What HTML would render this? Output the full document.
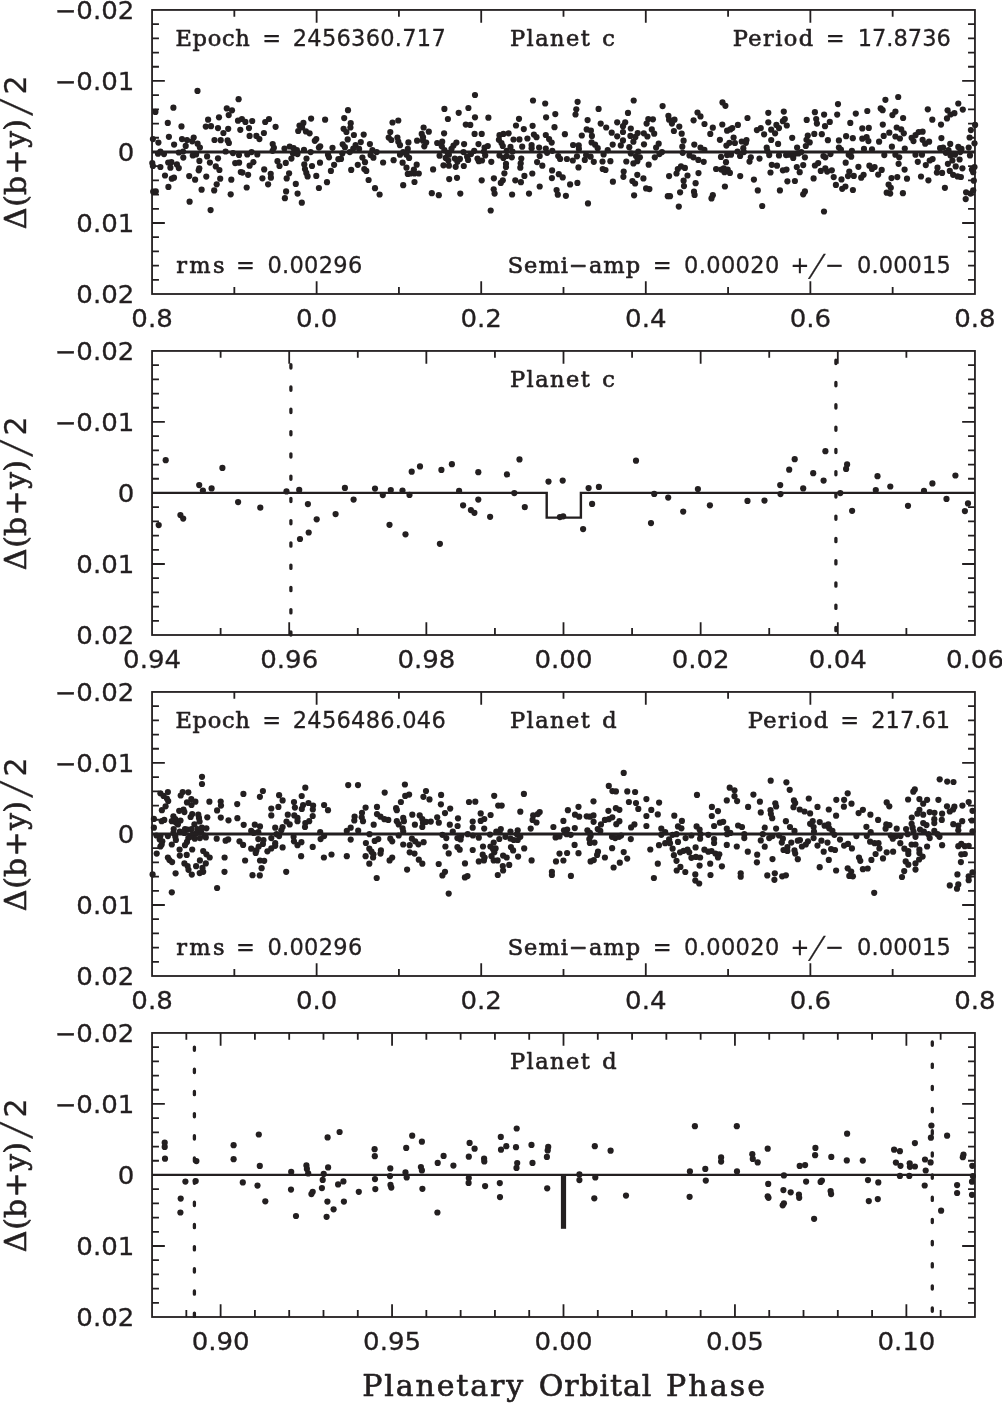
<!DOCTYPE html>
<html><head><meta charset="utf-8"><title>Planetary Orbital Phase</title>
<style>
html,body{margin:0;padding:0;background:#fff;}
svg{display:block}
text{font-family:"DejaVu Serif","Liberation Serif",serif;fill:#231f20;stroke:#231f20;stroke-width:0.65px;stroke-linejoin:round}
.n{font-family:"DejaVu Sans","Liberation Sans",sans-serif;stroke-width:0.3px}
.tk{font-size:24px}
.in{font-size:22.5px}
.big{font-size:30px}
.ax{stroke:#231f20;stroke-width:1.8;fill:none;stroke-linecap:square}
.d circle{fill:#231f20}
</style></head><body>
<svg width="1002" height="1404" viewBox="0 0 1002 1404">
<rect width="1002" height="1404" fill="#fff"/>

<g id="p0">
<rect class="ax" x="152.05" y="9.95" width="822.90" height="284.05"/>
<path class="ax" style="stroke-linecap:butt" d="M152.05 24.15h6.9M974.95 24.15h-6.9M152.05 38.36h6.9M974.95 38.36h-6.9M152.05 52.56h6.9M974.95 52.56h-6.9M152.05 66.76h6.9M974.95 66.76h-6.9M152.05 80.96h12.8M974.95 80.96h-12.8M152.05 95.17h6.9M974.95 95.17h-6.9M152.05 109.37h6.9M974.95 109.37h-6.9M152.05 123.57h6.9M974.95 123.57h-6.9M152.05 137.77h6.9M974.95 137.77h-6.9M152.05 151.97h12.8M974.95 151.97h-12.8M152.05 166.18h6.9M974.95 166.18h-6.9M152.05 180.38h6.9M974.95 180.38h-6.9M152.05 194.58h6.9M974.95 194.58h-6.9M152.05 208.78h6.9M974.95 208.78h-6.9M152.05 222.99h12.8M974.95 222.99h-12.8M152.05 237.19h6.9M974.95 237.19h-6.9M152.05 251.39h6.9M974.95 251.39h-6.9M152.05 265.60h6.9M974.95 265.60h-6.9M152.05 279.80h6.9M974.95 279.80h-6.9M316.63 9.95v12.8M316.63 294.00v-12.8M481.21 9.95v12.8M481.21 294.00v-12.8M645.79 9.95v12.8M645.79 294.00v-12.8M810.37 9.95v12.8M810.37 294.00v-12.8M234.34 9.95v6.9M234.34 294.00v-6.9M398.92 9.95v6.9M398.92 294.00v-6.9M563.50 9.95v6.9M563.50 294.00v-6.9M728.08 9.95v6.9M728.08 294.00v-6.9M892.66 9.95v6.9M892.66 294.00v-6.9"/>
<text class="tk n" transform="translate(134.3 18.85) scale(1.085 1)" text-anchor="end">−0.02</text>
<text class="tk n" transform="translate(134.3 89.86) scale(1.085 1)" text-anchor="end">−0.01</text>
<text class="tk n" transform="translate(134.3 160.88) scale(1.085 1)" text-anchor="end">0</text>
<text class="tk n" transform="translate(134.3 231.89) scale(1.085 1)" text-anchor="end">0.01</text>
<text class="tk n" transform="translate(134.3 302.90) scale(1.085 1)" text-anchor="end">0.02</text>
<text class="tk n" transform="translate(152.05 327.10) scale(1.085 1)" text-anchor="middle">0.8</text>
<text class="tk n" transform="translate(316.63 327.10) scale(1.085 1)" text-anchor="middle">0.0</text>
<text class="tk n" transform="translate(481.21 327.10) scale(1.085 1)" text-anchor="middle">0.2</text>
<text class="tk n" transform="translate(645.79 327.10) scale(1.085 1)" text-anchor="middle">0.4</text>
<text class="tk n" transform="translate(810.37 327.10) scale(1.085 1)" text-anchor="middle">0.6</text>
<text class="tk n" transform="translate(974.95 327.10) scale(1.085 1)" text-anchor="middle">0.8</text>
<g transform="translate(26.2 227.00) rotate(-90)"><text class="big" x="-2.3 20.2 31.9 52.4 78.9 96.2">Δ(b+y)</text><text class="big" transform="translate(111.9 2.6) skewX(-12) scale(1 1.32)" style="stroke-width:.3px">/</text><text class="big n" x="132.6">2</text></g>
</g>
<g class="d"><circle cx="155.4" cy="111.9" r="3.1"/><circle cx="152.9" cy="139.1" r="3.1"/><circle cx="158.4" cy="142.6" r="3.1"/><circle cx="158.0" cy="153.7" r="3.1"/><circle cx="164.0" cy="154.1" r="3.1"/><circle cx="160.4" cy="151.7" r="3.1"/><circle cx="152.3" cy="163.1" r="3.1"/><circle cx="152.9" cy="166.0" r="3.1"/><circle cx="160.4" cy="167.0" r="3.1"/><circle cx="153.2" cy="191.7" r="3.1"/><circle cx="155.8" cy="191.4" r="3.1"/><circle cx="173.4" cy="107.7" r="3.1"/><circle cx="167.8" cy="122.9" r="3.1"/><circle cx="168.9" cy="136.8" r="3.1"/><circle cx="174.1" cy="144.6" r="3.1"/><circle cx="168.2" cy="162.5" r="3.1"/><circle cx="171.4" cy="162.2" r="3.1"/><circle cx="170.4" cy="167.7" r="3.1"/><circle cx="165.0" cy="175.5" r="3.1"/><circle cx="171.8" cy="178.7" r="3.1"/><circle cx="174.0" cy="177.7" r="3.1"/><circle cx="168.4" cy="186.9" r="3.1"/><circle cx="181.5" cy="126.4" r="3.1"/><circle cx="182.0" cy="139.1" r="3.1"/><circle cx="187.0" cy="140.0" r="3.1"/><circle cx="185.7" cy="145.9" r="3.1"/><circle cx="178.8" cy="152.5" r="3.1"/><circle cx="183.1" cy="151.5" r="3.1"/><circle cx="183.3" cy="157.6" r="3.1"/><circle cx="176.9" cy="164.4" r="3.1"/><circle cx="178.8" cy="168.1" r="3.1"/><circle cx="189.2" cy="176.1" r="3.1"/><circle cx="189.6" cy="201.7" r="3.1"/><circle cx="197.5" cy="90.9" r="3.1"/><circle cx="193.7" cy="137.5" r="3.1"/><circle cx="192.2" cy="141.3" r="3.1"/><circle cx="197.6" cy="143.7" r="3.1"/><circle cx="199.9" cy="147.6" r="3.1"/><circle cx="192.8" cy="155.4" r="3.1"/><circle cx="196.1" cy="154.4" r="3.1"/><circle cx="199.4" cy="160.9" r="3.1"/><circle cx="199.3" cy="168.3" r="3.1"/><circle cx="198.7" cy="170.3" r="3.1"/><circle cx="195.1" cy="179.7" r="3.1"/><circle cx="201.6" cy="189.7" r="3.1"/><circle cx="208.1" cy="119.7" r="3.1"/><circle cx="205.8" cy="126.6" r="3.1"/><circle cx="211.0" cy="126.2" r="3.1"/><circle cx="214.5" cy="140.0" r="3.1"/><circle cx="207.1" cy="156.4" r="3.1"/><circle cx="209.9" cy="162.6" r="3.1"/><circle cx="206.3" cy="176.6" r="3.1"/><circle cx="214.2" cy="190.4" r="3.1"/><circle cx="210.6" cy="210.1" r="3.1"/><circle cx="219.0" cy="117.3" r="3.1"/><circle cx="218.0" cy="128.1" r="3.1"/><circle cx="223.4" cy="133.0" r="3.1"/><circle cx="220.7" cy="140.2" r="3.1"/><circle cx="225.6" cy="151.5" r="3.1"/><circle cx="218.0" cy="158.3" r="3.1"/><circle cx="215.8" cy="166.4" r="3.1"/><circle cx="219.4" cy="170.0" r="3.1"/><circle cx="220.2" cy="178.7" r="3.1"/><circle cx="216.7" cy="184.3" r="3.1"/><circle cx="238.6" cy="99.2" r="3.1"/><circle cx="226.8" cy="108.4" r="3.1"/><circle cx="232.0" cy="110.3" r="3.1"/><circle cx="228.7" cy="115.1" r="3.1"/><circle cx="228.2" cy="128.8" r="3.1"/><circle cx="227.6" cy="140.4" r="3.1"/><circle cx="228.9" cy="143.0" r="3.1"/><circle cx="233.0" cy="153.1" r="3.1"/><circle cx="239.0" cy="155.0" r="3.1"/><circle cx="235.2" cy="163.1" r="3.1"/><circle cx="239.1" cy="162.7" r="3.1"/><circle cx="231.3" cy="179.7" r="3.1"/><circle cx="230.7" cy="194.3" r="3.1"/><circle cx="238.0" cy="120.7" r="3.1"/><circle cx="240.3" cy="129.8" r="3.1"/><circle cx="241.9" cy="119.0" r="3.1"/><circle cx="245.4" cy="121.9" r="3.1"/><circle cx="252.2" cy="121.0" r="3.1"/><circle cx="249.0" cy="128.1" r="3.1"/><circle cx="249.6" cy="135.9" r="3.1"/><circle cx="247.3" cy="154.4" r="3.1"/><circle cx="251.6" cy="152.1" r="3.1"/><circle cx="253.4" cy="162.2" r="3.1"/><circle cx="249.6" cy="165.7" r="3.1"/><circle cx="240.8" cy="172.0" r="3.1"/><circle cx="242.4" cy="172.6" r="3.1"/><circle cx="248.1" cy="174.8" r="3.1"/><circle cx="246.7" cy="187.5" r="3.1"/><circle cx="256.4" cy="135.9" r="3.1"/><circle cx="259.4" cy="139.1" r="3.1"/><circle cx="263.9" cy="133.0" r="3.1"/><circle cx="265.2" cy="122.0" r="3.1"/><circle cx="269.0" cy="119.0" r="3.1"/><circle cx="257.3" cy="154.4" r="3.1"/><circle cx="264.2" cy="169.4" r="3.1"/><circle cx="262.4" cy="178.3" r="3.1"/><circle cx="275.6" cy="126.8" r="3.1"/><circle cx="272.7" cy="144.1" r="3.1"/><circle cx="273.9" cy="147.8" r="3.1"/><circle cx="272.6" cy="150.8" r="3.1"/><circle cx="277.5" cy="161.2" r="3.1"/><circle cx="279.5" cy="166.0" r="3.1"/><circle cx="270.7" cy="173.8" r="3.1"/><circle cx="270.9" cy="177.7" r="3.1"/><circle cx="268.1" cy="184.3" r="3.1"/><circle cx="285.8" cy="162.9" r="3.1"/><circle cx="291.4" cy="158.6" r="3.1"/><circle cx="284.5" cy="148.5" r="3.1"/><circle cx="289.7" cy="146.5" r="3.1"/><circle cx="293.6" cy="148.2" r="3.1"/><circle cx="296.9" cy="150.2" r="3.1"/><circle cx="293.0" cy="153.4" r="3.1"/><circle cx="297.5" cy="154.1" r="3.1"/><circle cx="289.1" cy="173.3" r="3.1"/><circle cx="286.7" cy="178.4" r="3.1"/><circle cx="286.1" cy="191.4" r="3.1"/><circle cx="284.9" cy="198.2" r="3.1"/><circle cx="295.8" cy="183.9" r="3.1"/><circle cx="297.6" cy="193.6" r="3.1"/><circle cx="301.8" cy="202.7" r="3.1"/><circle cx="298.2" cy="131.0" r="3.1"/><circle cx="299.5" cy="125.5" r="3.1"/><circle cx="303.4" cy="122.9" r="3.1"/><circle cx="302.1" cy="127.5" r="3.1"/><circle cx="305.9" cy="131.4" r="3.1"/><circle cx="309.6" cy="133.3" r="3.1"/><circle cx="311.1" cy="118.6" r="3.1"/><circle cx="314.8" cy="140.8" r="3.1"/><circle cx="316.3" cy="139.1" r="3.1"/><circle cx="320.2" cy="146.3" r="3.1"/><circle cx="318.9" cy="147.6" r="3.1"/><circle cx="304.0" cy="149.8" r="3.1"/><circle cx="310.7" cy="152.1" r="3.1"/><circle cx="306.5" cy="158.6" r="3.1"/><circle cx="304.3" cy="164.4" r="3.1"/><circle cx="305.0" cy="169.0" r="3.1"/><circle cx="306.3" cy="172.9" r="3.1"/><circle cx="307.6" cy="176.4" r="3.1"/><circle cx="312.0" cy="166.0" r="3.1"/><circle cx="320.0" cy="162.7" r="3.1"/><circle cx="316.3" cy="175.9" r="3.1"/><circle cx="318.9" cy="188.0" r="3.1"/><circle cx="325.1" cy="119.7" r="3.1"/><circle cx="332.5" cy="147.8" r="3.1"/><circle cx="328.0" cy="154.7" r="3.1"/><circle cx="329.0" cy="157.3" r="3.1"/><circle cx="334.1" cy="164.8" r="3.1"/><circle cx="330.9" cy="170.9" r="3.1"/><circle cx="327.0" cy="182.2" r="3.1"/><circle cx="338.4" cy="159.2" r="3.1"/><circle cx="341.0" cy="158.9" r="3.1"/><circle cx="348.0" cy="110.2" r="3.1"/><circle cx="344.2" cy="118.1" r="3.1"/><circle cx="350.7" cy="123.2" r="3.1"/><circle cx="350.4" cy="127.5" r="3.1"/><circle cx="343.6" cy="128.8" r="3.1"/><circle cx="346.4" cy="132.0" r="3.1"/><circle cx="353.9" cy="135.0" r="3.1"/><circle cx="347.7" cy="139.4" r="3.1"/><circle cx="342.7" cy="144.3" r="3.1"/><circle cx="344.9" cy="147.2" r="3.1"/><circle cx="342.3" cy="153.4" r="3.1"/><circle cx="349.8" cy="152.1" r="3.1"/><circle cx="355.6" cy="145.0" r="3.1"/><circle cx="353.3" cy="148.5" r="3.1"/><circle cx="359.1" cy="148.9" r="3.1"/><circle cx="351.2" cy="169.9" r="3.1"/><circle cx="357.8" cy="164.8" r="3.1"/><circle cx="363.7" cy="134.6" r="3.1"/><circle cx="360.8" cy="142.1" r="3.1"/><circle cx="369.9" cy="144.1" r="3.1"/><circle cx="372.4" cy="150.2" r="3.1"/><circle cx="376.7" cy="152.1" r="3.1"/><circle cx="362.4" cy="157.6" r="3.1"/><circle cx="365.0" cy="162.2" r="3.1"/><circle cx="370.6" cy="155.1" r="3.1"/><circle cx="373.4" cy="157.7" r="3.1"/><circle cx="364.3" cy="169.0" r="3.1"/><circle cx="366.3" cy="170.9" r="3.1"/><circle cx="368.6" cy="180.0" r="3.1"/><circle cx="375.0" cy="188.2" r="3.1"/><circle cx="379.6" cy="194.5" r="3.1"/><circle cx="383.1" cy="162.5" r="3.1"/><circle cx="390.3" cy="132.0" r="3.1"/><circle cx="388.7" cy="137.6" r="3.1"/><circle cx="391.3" cy="140.0" r="3.1"/><circle cx="392.5" cy="122.5" r="3.1"/><circle cx="398.3" cy="120.5" r="3.1"/><circle cx="393.6" cy="160.2" r="3.1"/><circle cx="397.4" cy="137.6" r="3.1"/><circle cx="398.3" cy="141.7" r="3.1"/><circle cx="400.0" cy="145.2" r="3.1"/><circle cx="403.2" cy="185.2" r="3.1"/><circle cx="402.6" cy="162.7" r="3.1"/><circle cx="406.5" cy="167.7" r="3.1"/><circle cx="407.8" cy="173.9" r="3.1"/><circle cx="400.0" cy="154.7" r="3.1"/><circle cx="403.2" cy="152.1" r="3.1"/><circle cx="407.8" cy="148.9" r="3.1"/><circle cx="408.4" cy="142.4" r="3.1"/><circle cx="406.5" cy="154.7" r="3.1"/><circle cx="409.1" cy="157.9" r="3.1"/><circle cx="417.1" cy="140.7" r="3.1"/><circle cx="423.0" cy="140.7" r="3.1"/><circle cx="426.2" cy="142.6" r="3.1"/><circle cx="424.3" cy="146.3" r="3.1"/><circle cx="423.6" cy="127.5" r="3.1"/><circle cx="428.8" cy="131.7" r="3.1"/><circle cx="421.7" cy="133.9" r="3.1"/><circle cx="423.0" cy="137.2" r="3.1"/><circle cx="416.7" cy="164.7" r="3.1"/><circle cx="413.9" cy="169.6" r="3.1"/><circle cx="414.5" cy="173.5" r="3.1"/><circle cx="418.8" cy="173.5" r="3.1"/><circle cx="414.5" cy="182.0" r="3.1"/><circle cx="410.6" cy="173.5" r="3.1"/><circle cx="444.4" cy="108.9" r="3.1"/><circle cx="447.9" cy="119.0" r="3.1"/><circle cx="444.1" cy="133.3" r="3.1"/><circle cx="437.2" cy="143.0" r="3.1"/><circle cx="442.2" cy="141.7" r="3.1"/><circle cx="441.8" cy="146.3" r="3.1"/><circle cx="444.4" cy="150.2" r="3.1"/><circle cx="439.6" cy="155.7" r="3.1"/><circle cx="433.1" cy="169.4" r="3.1"/><circle cx="431.8" cy="193.2" r="3.1"/><circle cx="438.8" cy="195.2" r="3.1"/><circle cx="443.5" cy="165.3" r="3.1"/><circle cx="445.7" cy="157.9" r="3.1"/><circle cx="448.3" cy="160.5" r="3.1"/><circle cx="448.9" cy="165.7" r="3.1"/><circle cx="447.6" cy="152.8" r="3.1"/><circle cx="448.9" cy="154.7" r="3.1"/><circle cx="449.2" cy="179.1" r="3.1"/><circle cx="458.7" cy="112.8" r="3.1"/><circle cx="468.4" cy="108.0" r="3.1"/><circle cx="465.8" cy="124.6" r="3.1"/><circle cx="470.3" cy="124.9" r="3.1"/><circle cx="456.4" cy="142.6" r="3.1"/><circle cx="453.5" cy="145.6" r="3.1"/><circle cx="451.5" cy="148.9" r="3.1"/><circle cx="464.1" cy="144.1" r="3.1"/><circle cx="454.8" cy="158.6" r="3.1"/><circle cx="459.9" cy="158.9" r="3.1"/><circle cx="457.4" cy="161.8" r="3.1"/><circle cx="455.7" cy="166.8" r="3.1"/><circle cx="463.8" cy="166.0" r="3.1"/><circle cx="457.0" cy="177.8" r="3.1"/><circle cx="460.3" cy="193.6" r="3.1"/><circle cx="463.5" cy="152.1" r="3.1"/><circle cx="467.1" cy="156.7" r="3.1"/><circle cx="468.1" cy="159.9" r="3.1"/><circle cx="475.0" cy="95.0" r="3.1"/><circle cx="475.0" cy="117.3" r="3.1"/><circle cx="474.6" cy="133.9" r="3.1"/><circle cx="481.7" cy="133.9" r="3.1"/><circle cx="478.5" cy="144.1" r="3.1"/><circle cx="474.2" cy="150.8" r="3.1"/><circle cx="471.0" cy="154.1" r="3.1"/><circle cx="484.6" cy="147.6" r="3.1"/><circle cx="487.8" cy="146.0" r="3.1"/><circle cx="483.9" cy="151.5" r="3.1"/><circle cx="477.5" cy="158.6" r="3.1"/><circle cx="478.8" cy="161.2" r="3.1"/><circle cx="482.0" cy="160.5" r="3.1"/><circle cx="485.2" cy="155.4" r="3.1"/><circle cx="481.7" cy="180.3" r="3.1"/><circle cx="488.4" cy="117.7" r="3.1"/><circle cx="491.3" cy="161.8" r="3.1"/><circle cx="493.9" cy="178.3" r="3.1"/><circle cx="493.7" cy="189.3" r="3.1"/><circle cx="494.6" cy="193.6" r="3.1"/><circle cx="490.7" cy="210.5" r="3.1"/><circle cx="499.5" cy="135.2" r="3.1"/><circle cx="503.4" cy="133.9" r="3.1"/><circle cx="508.6" cy="133.3" r="3.1"/><circle cx="498.9" cy="139.8" r="3.1"/><circle cx="501.5" cy="143.0" r="3.1"/><circle cx="502.8" cy="146.0" r="3.1"/><circle cx="499.5" cy="155.4" r="3.1"/><circle cx="503.4" cy="157.9" r="3.1"/><circle cx="506.7" cy="156.0" r="3.1"/><circle cx="506.7" cy="150.8" r="3.1"/><circle cx="506.0" cy="163.8" r="3.1"/><circle cx="506.0" cy="167.0" r="3.1"/><circle cx="504.4" cy="173.3" r="3.1"/><circle cx="502.8" cy="180.3" r="3.1"/><circle cx="500.8" cy="182.9" r="3.1"/><circle cx="519.0" cy="118.8" r="3.1"/><circle cx="516.0" cy="125.5" r="3.1"/><circle cx="523.8" cy="129.1" r="3.1"/><circle cx="513.5" cy="139.5" r="3.1"/><circle cx="519.4" cy="139.4" r="3.1"/><circle cx="510.5" cy="146.9" r="3.1"/><circle cx="512.5" cy="151.5" r="3.1"/><circle cx="522.2" cy="146.7" r="3.1"/><circle cx="511.8" cy="157.3" r="3.1"/><circle cx="521.3" cy="158.6" r="3.1"/><circle cx="520.7" cy="163.4" r="3.1"/><circle cx="520.3" cy="167.7" r="3.1"/><circle cx="515.3" cy="180.3" r="3.1"/><circle cx="520.9" cy="182.2" r="3.1"/><circle cx="524.4" cy="175.9" r="3.1"/><circle cx="512.1" cy="194.5" r="3.1"/><circle cx="533.0" cy="100.5" r="3.1"/><circle cx="532.6" cy="125.8" r="3.1"/><circle cx="533.9" cy="134.6" r="3.1"/><circle cx="536.5" cy="137.2" r="3.1"/><circle cx="527.4" cy="138.5" r="3.1"/><circle cx="531.6" cy="145.0" r="3.1"/><circle cx="531.6" cy="148.2" r="3.1"/><circle cx="539.1" cy="147.6" r="3.1"/><circle cx="537.1" cy="162.1" r="3.1"/><circle cx="532.3" cy="173.5" r="3.1"/><circle cx="529.0" cy="193.6" r="3.1"/><circle cx="539.7" cy="186.5" r="3.1"/><circle cx="539.7" cy="156.0" r="3.1"/><circle cx="545.2" cy="103.5" r="3.1"/><circle cx="546.1" cy="117.3" r="3.1"/><circle cx="555.3" cy="114.1" r="3.1"/><circle cx="554.5" cy="127.2" r="3.1"/><circle cx="545.8" cy="135.0" r="3.1"/><circle cx="549.1" cy="139.1" r="3.1"/><circle cx="551.7" cy="142.6" r="3.1"/><circle cx="545.8" cy="148.5" r="3.1"/><circle cx="547.1" cy="152.8" r="3.1"/><circle cx="552.3" cy="150.8" r="3.1"/><circle cx="542.3" cy="165.7" r="3.1"/><circle cx="552.1" cy="170.4" r="3.1"/><circle cx="551.9" cy="178.1" r="3.1"/><circle cx="556.6" cy="190.0" r="3.1"/><circle cx="557.8" cy="194.7" r="3.1"/><circle cx="558.2" cy="156.0" r="3.1"/><circle cx="560.1" cy="158.9" r="3.1"/><circle cx="558.8" cy="174.2" r="3.1"/><circle cx="577.6" cy="101.8" r="3.1"/><circle cx="576.3" cy="109.3" r="3.1"/><circle cx="575.5" cy="114.5" r="3.1"/><circle cx="564.9" cy="134.2" r="3.1"/><circle cx="573.1" cy="145.0" r="3.1"/><circle cx="578.7" cy="145.4" r="3.1"/><circle cx="578.9" cy="148.9" r="3.1"/><circle cx="566.9" cy="159.0" r="3.1"/><circle cx="572.8" cy="160.5" r="3.1"/><circle cx="577.0" cy="156.3" r="3.1"/><circle cx="578.5" cy="167.4" r="3.1"/><circle cx="562.7" cy="177.4" r="3.1"/><circle cx="570.1" cy="184.4" r="3.1"/><circle cx="577.4" cy="182.9" r="3.1"/><circle cx="565.9" cy="195.8" r="3.1"/><circle cx="587.6" cy="120.1" r="3.1"/><circle cx="586.7" cy="129.4" r="3.1"/><circle cx="590.9" cy="130.7" r="3.1"/><circle cx="591.9" cy="135.9" r="3.1"/><circle cx="581.8" cy="135.5" r="3.1"/><circle cx="591.6" cy="142.4" r="3.1"/><circle cx="595.1" cy="144.7" r="3.1"/><circle cx="597.7" cy="148.2" r="3.1"/><circle cx="584.8" cy="159.9" r="3.1"/><circle cx="586.1" cy="155.1" r="3.1"/><circle cx="590.6" cy="156.7" r="3.1"/><circle cx="593.8" cy="161.8" r="3.1"/><circle cx="588.0" cy="203.4" r="3.1"/><circle cx="598.6" cy="108.9" r="3.1"/><circle cx="600.7" cy="123.6" r="3.1"/><circle cx="606.2" cy="127.5" r="3.1"/><circle cx="611.7" cy="132.7" r="3.1"/><circle cx="617.2" cy="122.3" r="3.1"/><circle cx="617.2" cy="136.3" r="3.1"/><circle cx="612.7" cy="144.6" r="3.1"/><circle cx="607.7" cy="150.2" r="3.1"/><circle cx="603.6" cy="154.4" r="3.1"/><circle cx="602.5" cy="161.5" r="3.1"/><circle cx="610.4" cy="161.2" r="3.1"/><circle cx="602.7" cy="169.0" r="3.1"/><circle cx="605.5" cy="170.0" r="3.1"/><circle cx="612.9" cy="181.7" r="3.1"/><circle cx="633.7" cy="100.5" r="3.1"/><circle cx="628.0" cy="112.9" r="3.1"/><circle cx="625.2" cy="122.3" r="3.1"/><circle cx="623.0" cy="126.2" r="3.1"/><circle cx="623.0" cy="132.0" r="3.1"/><circle cx="630.8" cy="128.5" r="3.1"/><circle cx="630.4" cy="135.9" r="3.1"/><circle cx="623.0" cy="140.4" r="3.1"/><circle cx="620.8" cy="145.4" r="3.1"/><circle cx="629.3" cy="147.2" r="3.1"/><circle cx="626.3" cy="161.5" r="3.1"/><circle cx="623.7" cy="171.6" r="3.1"/><circle cx="623.4" cy="176.8" r="3.1"/><circle cx="633.4" cy="141.7" r="3.1"/><circle cx="635.4" cy="136.9" r="3.1"/><circle cx="637.7" cy="133.0" r="3.1"/><circle cx="638.3" cy="151.5" r="3.1"/><circle cx="636.0" cy="156.0" r="3.1"/><circle cx="639.9" cy="157.3" r="3.1"/><circle cx="637.3" cy="161.2" r="3.1"/><circle cx="633.4" cy="163.4" r="3.1"/><circle cx="630.8" cy="153.4" r="3.1"/><circle cx="637.3" cy="174.8" r="3.1"/><circle cx="632.4" cy="181.0" r="3.1"/><circle cx="635.1" cy="183.5" r="3.1"/><circle cx="634.1" cy="195.3" r="3.1"/><circle cx="648.3" cy="119.0" r="3.1"/><circle cx="652.9" cy="119.3" r="3.1"/><circle cx="646.6" cy="123.6" r="3.1"/><circle cx="651.8" cy="129.4" r="3.1"/><circle cx="654.2" cy="133.7" r="3.1"/><circle cx="643.8" cy="133.3" r="3.1"/><circle cx="647.4" cy="136.5" r="3.1"/><circle cx="644.0" cy="144.3" r="3.1"/><circle cx="648.7" cy="164.7" r="3.1"/><circle cx="643.4" cy="178.4" r="3.1"/><circle cx="646.1" cy="188.4" r="3.1"/><circle cx="649.4" cy="189.1" r="3.1"/><circle cx="654.8" cy="157.3" r="3.1"/><circle cx="656.1" cy="147.6" r="3.1"/><circle cx="658.7" cy="143.7" r="3.1"/><circle cx="662.6" cy="106.1" r="3.1"/><circle cx="668.4" cy="115.8" r="3.1"/><circle cx="669.1" cy="119.7" r="3.1"/><circle cx="659.4" cy="154.1" r="3.1"/><circle cx="662.0" cy="152.1" r="3.1"/><circle cx="669.1" cy="176.1" r="3.1"/><circle cx="667.8" cy="196.2" r="3.1"/><circle cx="674.5" cy="119.7" r="3.1"/><circle cx="671.9" cy="123.6" r="3.1"/><circle cx="673.9" cy="131.0" r="3.1"/><circle cx="679.3" cy="126.6" r="3.1"/><circle cx="681.7" cy="133.7" r="3.1"/><circle cx="683.6" cy="140.7" r="3.1"/><circle cx="682.3" cy="146.7" r="3.1"/><circle cx="682.7" cy="152.8" r="3.1"/><circle cx="676.5" cy="173.5" r="3.1"/><circle cx="677.8" cy="169.0" r="3.1"/><circle cx="681.0" cy="166.4" r="3.1"/><circle cx="684.9" cy="167.9" r="3.1"/><circle cx="687.5" cy="175.5" r="3.1"/><circle cx="683.6" cy="180.7" r="3.1"/><circle cx="684.0" cy="186.1" r="3.1"/><circle cx="680.1" cy="192.3" r="3.1"/><circle cx="670.0" cy="196.2" r="3.1"/><circle cx="678.8" cy="206.6" r="3.1"/><circle cx="689.5" cy="155.4" r="3.1"/><circle cx="697.5" cy="112.5" r="3.1"/><circle cx="700.5" cy="116.4" r="3.1"/><circle cx="693.6" cy="120.3" r="3.1"/><circle cx="704.5" cy="124.0" r="3.1"/><circle cx="694.3" cy="144.6" r="3.1"/><circle cx="700.5" cy="147.6" r="3.1"/><circle cx="704.4" cy="149.9" r="3.1"/><circle cx="693.4" cy="157.3" r="3.1"/><circle cx="698.3" cy="159.9" r="3.1"/><circle cx="703.7" cy="161.8" r="3.1"/><circle cx="698.5" cy="173.1" r="3.1"/><circle cx="695.6" cy="183.2" r="3.1"/><circle cx="694.0" cy="191.7" r="3.1"/><circle cx="694.6" cy="194.9" r="3.1"/><circle cx="722.5" cy="102.4" r="3.1"/><circle cx="725.4" cy="105.8" r="3.1"/><circle cx="712.8" cy="127.7" r="3.1"/><circle cx="710.3" cy="133.9" r="3.1"/><circle cx="722.3" cy="124.5" r="3.1"/><circle cx="719.9" cy="139.8" r="3.1"/><circle cx="727.1" cy="130.7" r="3.1"/><circle cx="730.3" cy="129.4" r="3.1"/><circle cx="726.4" cy="145.6" r="3.1"/><circle cx="729.4" cy="142.8" r="3.1"/><circle cx="721.0" cy="156.9" r="3.1"/><circle cx="726.0" cy="162.2" r="3.1"/><circle cx="716.1" cy="169.0" r="3.1"/><circle cx="721.2" cy="169.6" r="3.1"/><circle cx="724.5" cy="172.2" r="3.1"/><circle cx="727.7" cy="169.6" r="3.1"/><circle cx="729.9" cy="172.9" r="3.1"/><circle cx="723.8" cy="168.3" r="3.1"/><circle cx="724.9" cy="186.5" r="3.1"/><circle cx="712.8" cy="195.2" r="3.1"/><circle cx="711.5" cy="198.4" r="3.1"/><circle cx="727.1" cy="155.1" r="3.1"/><circle cx="737.9" cy="124.9" r="3.1"/><circle cx="732.3" cy="128.1" r="3.1"/><circle cx="733.6" cy="137.5" r="3.1"/><circle cx="734.9" cy="143.0" r="3.1"/><circle cx="741.7" cy="141.5" r="3.1"/><circle cx="746.5" cy="140.0" r="3.1"/><circle cx="745.9" cy="142.8" r="3.1"/><circle cx="731.0" cy="154.7" r="3.1"/><circle cx="737.5" cy="151.5" r="3.1"/><circle cx="740.1" cy="156.0" r="3.1"/><circle cx="743.3" cy="148.2" r="3.1"/><circle cx="743.9" cy="152.1" r="3.1"/><circle cx="740.2" cy="176.1" r="3.1"/><circle cx="747.5" cy="118.0" r="3.1"/><circle cx="750.8" cy="157.3" r="3.1"/><circle cx="749.5" cy="161.6" r="3.1"/><circle cx="759.5" cy="158.6" r="3.1"/><circle cx="753.9" cy="179.6" r="3.1"/><circle cx="757.8" cy="190.4" r="3.1"/><circle cx="762.2" cy="206.0" r="3.1"/><circle cx="756.9" cy="130.1" r="3.1"/><circle cx="760.8" cy="128.1" r="3.1"/><circle cx="764.1" cy="134.3" r="3.1"/><circle cx="766.7" cy="147.6" r="3.1"/><circle cx="767.3" cy="150.8" r="3.1"/><circle cx="768.3" cy="112.8" r="3.1"/><circle cx="768.3" cy="122.3" r="3.1"/><circle cx="783.8" cy="111.6" r="3.1"/><circle cx="782.9" cy="121.2" r="3.1"/><circle cx="784.8" cy="119.0" r="3.1"/><circle cx="786.8" cy="125.5" r="3.1"/><circle cx="776.4" cy="124.9" r="3.1"/><circle cx="779.0" cy="128.1" r="3.1"/><circle cx="771.2" cy="129.7" r="3.1"/><circle cx="775.1" cy="133.3" r="3.1"/><circle cx="771.2" cy="140.0" r="3.1"/><circle cx="778.1" cy="143.9" r="3.1"/><circle cx="769.2" cy="155.1" r="3.1"/><circle cx="779.0" cy="155.4" r="3.1"/><circle cx="771.8" cy="164.8" r="3.1"/><circle cx="777.0" cy="165.7" r="3.1"/><circle cx="770.5" cy="172.5" r="3.1"/><circle cx="782.9" cy="170.3" r="3.1"/><circle cx="786.5" cy="169.6" r="3.1"/><circle cx="779.9" cy="190.4" r="3.1"/><circle cx="786.1" cy="155.1" r="3.1"/><circle cx="792.2" cy="137.8" r="3.1"/><circle cx="797.1" cy="147.6" r="3.1"/><circle cx="789.4" cy="154.7" r="3.1"/><circle cx="793.2" cy="157.9" r="3.1"/><circle cx="794.5" cy="154.1" r="3.1"/><circle cx="798.4" cy="153.4" r="3.1"/><circle cx="796.8" cy="167.0" r="3.1"/><circle cx="787.4" cy="181.3" r="3.1"/><circle cx="794.9" cy="181.0" r="3.1"/><circle cx="799.7" cy="172.2" r="3.1"/><circle cx="806.7" cy="119.9" r="3.1"/><circle cx="814.9" cy="112.2" r="3.1"/><circle cx="816.2" cy="119.0" r="3.1"/><circle cx="816.9" cy="123.6" r="3.1"/><circle cx="814.3" cy="133.9" r="3.1"/><circle cx="807.8" cy="135.6" r="3.1"/><circle cx="806.5" cy="139.8" r="3.1"/><circle cx="809.7" cy="142.4" r="3.1"/><circle cx="805.8" cy="146.0" r="3.1"/><circle cx="801.3" cy="152.1" r="3.1"/><circle cx="804.9" cy="157.3" r="3.1"/><circle cx="803.2" cy="165.1" r="3.1"/><circle cx="813.6" cy="178.4" r="3.1"/><circle cx="804.9" cy="191.4" r="3.1"/><circle cx="803.2" cy="194.3" r="3.1"/><circle cx="814.9" cy="165.5" r="3.1"/><circle cx="818.2" cy="163.1" r="3.1"/><circle cx="838.0" cy="104.1" r="3.1"/><circle cx="824.1" cy="114.6" r="3.1"/><circle cx="837.2" cy="114.6" r="3.1"/><circle cx="829.8" cy="121.9" r="3.1"/><circle cx="825.0" cy="126.2" r="3.1"/><circle cx="821.8" cy="134.2" r="3.1"/><circle cx="827.9" cy="140.2" r="3.1"/><circle cx="838.9" cy="140.4" r="3.1"/><circle cx="838.9" cy="147.6" r="3.1"/><circle cx="840.9" cy="149.5" r="3.1"/><circle cx="823.4" cy="156.0" r="3.1"/><circle cx="825.3" cy="157.3" r="3.1"/><circle cx="830.5" cy="154.1" r="3.1"/><circle cx="820.8" cy="170.9" r="3.1"/><circle cx="825.3" cy="168.3" r="3.1"/><circle cx="827.2" cy="171.6" r="3.1"/><circle cx="831.8" cy="170.3" r="3.1"/><circle cx="833.7" cy="177.1" r="3.1"/><circle cx="835.9" cy="184.9" r="3.1"/><circle cx="855.8" cy="113.6" r="3.1"/><circle cx="850.3" cy="122.9" r="3.1"/><circle cx="846.1" cy="136.2" r="3.1"/><circle cx="852.8" cy="138.2" r="3.1"/><circle cx="851.9" cy="150.8" r="3.1"/><circle cx="848.7" cy="154.7" r="3.1"/><circle cx="851.2" cy="156.7" r="3.1"/><circle cx="845.7" cy="162.7" r="3.1"/><circle cx="858.4" cy="166.8" r="3.1"/><circle cx="849.3" cy="171.6" r="3.1"/><circle cx="848.0" cy="176.1" r="3.1"/><circle cx="853.8" cy="175.9" r="3.1"/><circle cx="841.5" cy="179.4" r="3.1"/><circle cx="845.4" cy="186.5" r="3.1"/><circle cx="842.2" cy="188.8" r="3.1"/><circle cx="852.9" cy="190.0" r="3.1"/><circle cx="867.3" cy="111.0" r="3.1"/><circle cx="862.3" cy="128.4" r="3.1"/><circle cx="868.8" cy="127.9" r="3.1"/><circle cx="862.3" cy="138.7" r="3.1"/><circle cx="866.6" cy="137.2" r="3.1"/><circle cx="868.4" cy="141.1" r="3.1"/><circle cx="864.0" cy="148.9" r="3.1"/><circle cx="872.0" cy="149.3" r="3.1"/><circle cx="869.4" cy="165.7" r="3.1"/><circle cx="872.0" cy="169.0" r="3.1"/><circle cx="874.6" cy="167.0" r="3.1"/><circle cx="863.6" cy="174.8" r="3.1"/><circle cx="861.2" cy="177.7" r="3.1"/><circle cx="878.2" cy="174.6" r="3.1"/><circle cx="885.4" cy="99.8" r="3.1"/><circle cx="880.7" cy="108.4" r="3.1"/><circle cx="882.6" cy="110.2" r="3.1"/><circle cx="895.4" cy="111.6" r="3.1"/><circle cx="892.4" cy="115.1" r="3.1"/><circle cx="882.8" cy="124.6" r="3.1"/><circle cx="889.3" cy="132.7" r="3.1"/><circle cx="883.7" cy="135.9" r="3.1"/><circle cx="879.1" cy="141.7" r="3.1"/><circle cx="891.9" cy="146.7" r="3.1"/><circle cx="884.3" cy="155.1" r="3.1"/><circle cx="881.7" cy="169.9" r="3.1"/><circle cx="891.5" cy="178.1" r="3.1"/><circle cx="897.3" cy="177.1" r="3.1"/><circle cx="888.6" cy="184.5" r="3.1"/><circle cx="890.8" cy="187.8" r="3.1"/><circle cx="886.7" cy="192.7" r="3.1"/><circle cx="890.2" cy="193.6" r="3.1"/><circle cx="896.7" cy="127.5" r="3.1"/><circle cx="895.4" cy="136.5" r="3.1"/><circle cx="895.4" cy="154.7" r="3.1"/><circle cx="898.2" cy="97.0" r="3.1"/><circle cx="903.1" cy="118.0" r="3.1"/><circle cx="901.2" cy="129.4" r="3.1"/><circle cx="903.8" cy="133.3" r="3.1"/><circle cx="899.9" cy="138.5" r="3.1"/><circle cx="904.8" cy="148.6" r="3.1"/><circle cx="899.2" cy="157.3" r="3.1"/><circle cx="898.6" cy="163.8" r="3.1"/><circle cx="904.6" cy="169.6" r="3.1"/><circle cx="907.0" cy="178.7" r="3.1"/><circle cx="902.9" cy="193.2" r="3.1"/><circle cx="911.6" cy="137.8" r="3.1"/><circle cx="913.5" cy="141.1" r="3.1"/><circle cx="915.5" cy="135.2" r="3.1"/><circle cx="915.5" cy="154.7" r="3.1"/><circle cx="918.7" cy="132.0" r="3.1"/><circle cx="922.6" cy="131.7" r="3.1"/><circle cx="922.6" cy="139.8" r="3.1"/><circle cx="925.2" cy="143.7" r="3.1"/><circle cx="929.1" cy="141.7" r="3.1"/><circle cx="922.0" cy="154.7" r="3.1"/><circle cx="917.8" cy="161.8" r="3.1"/><circle cx="925.8" cy="165.1" r="3.1"/><circle cx="929.7" cy="160.5" r="3.1"/><circle cx="921.0" cy="176.5" r="3.1"/><circle cx="928.4" cy="180.3" r="3.1"/><circle cx="927.8" cy="109.3" r="3.1"/><circle cx="824.0" cy="211.5" r="3.1"/><circle cx="932.3" cy="119.7" r="3.1"/><circle cx="932.6" cy="159.1" r="3.1"/><circle cx="941.0" cy="124.6" r="3.1"/><circle cx="941.4" cy="138.1" r="3.1"/><circle cx="940.1" cy="148.2" r="3.1"/><circle cx="943.1" cy="147.6" r="3.1"/><circle cx="947.6" cy="110.3" r="3.1"/><circle cx="947.0" cy="118.4" r="3.1"/><circle cx="950.5" cy="114.5" r="3.1"/><circle cx="954.4" cy="113.2" r="3.1"/><circle cx="958.3" cy="103.5" r="3.1"/><circle cx="962.8" cy="109.6" r="3.1"/><circle cx="950.2" cy="143.9" r="3.1"/><circle cx="945.9" cy="152.8" r="3.1"/><circle cx="948.5" cy="150.2" r="3.1"/><circle cx="950.5" cy="155.4" r="3.1"/><circle cx="955.0" cy="154.7" r="3.1"/><circle cx="958.3" cy="146.9" r="3.1"/><circle cx="961.5" cy="148.9" r="3.1"/><circle cx="960.2" cy="152.1" r="3.1"/><circle cx="959.6" cy="159.5" r="3.1"/><circle cx="947.9" cy="163.8" r="3.1"/><circle cx="952.4" cy="160.5" r="3.1"/><circle cx="937.5" cy="167.7" r="3.1"/><circle cx="936.9" cy="172.6" r="3.1"/><circle cx="942.1" cy="172.9" r="3.1"/><circle cx="949.8" cy="170.9" r="3.1"/><circle cx="955.7" cy="166.4" r="3.1"/><circle cx="953.1" cy="174.8" r="3.1"/><circle cx="962.4" cy="168.3" r="3.1"/><circle cx="957.6" cy="176.4" r="3.1"/><circle cx="960.9" cy="177.0" r="3.1"/><circle cx="944.9" cy="187.8" r="3.1"/><circle cx="968.7" cy="147.6" r="3.1"/><circle cx="970.0" cy="155.4" r="3.1"/><circle cx="969.6" cy="137.5" r="3.1"/><circle cx="974.5" cy="143.3" r="3.1"/><circle cx="970.9" cy="130.1" r="3.1"/><circle cx="975.1" cy="124.9" r="3.1"/><circle cx="971.9" cy="169.6" r="3.1"/><circle cx="973.2" cy="172.2" r="3.1"/><circle cx="974.5" cy="167.0" r="3.1"/><circle cx="973.8" cy="180.7" r="3.1"/><circle cx="966.1" cy="192.3" r="3.1"/><circle cx="970.6" cy="193.6" r="3.1"/><circle cx="973.2" cy="190.4" r="3.1"/><circle cx="965.7" cy="199.1" r="3.1"/></g>
<path d="M152.05 151.88H974.95" stroke="#231f20" stroke-width="3"/>
<text class="n" transform="translate(809.30 276.25) skewX(-21.6) scale(1 1.35)" style="font-size:22.5px">/</text>
<g id="p1">
<rect class="ax" x="152.05" y="350.95" width="822.90" height="284.05"/>
<path class="ax" style="stroke-linecap:butt" d="M152.05 365.15h6.9M974.95 365.15h-6.9M152.05 379.36h6.9M974.95 379.36h-6.9M152.05 393.56h6.9M974.95 393.56h-6.9M152.05 407.76h6.9M974.95 407.76h-6.9M152.05 421.96h12.8M974.95 421.96h-12.8M152.05 436.16h6.9M974.95 436.16h-6.9M152.05 450.37h6.9M974.95 450.37h-6.9M152.05 464.57h6.9M974.95 464.57h-6.9M152.05 478.77h6.9M974.95 478.77h-6.9M152.05 492.98h12.8M974.95 492.98h-12.8M152.05 507.18h6.9M974.95 507.18h-6.9M152.05 521.38h6.9M974.95 521.38h-6.9M152.05 535.58h6.9M974.95 535.58h-6.9M152.05 549.78h6.9M974.95 549.78h-6.9M152.05 563.99h12.8M974.95 563.99h-12.8M152.05 578.19h6.9M974.95 578.19h-6.9M152.05 592.39h6.9M974.95 592.39h-6.9M152.05 606.60h6.9M974.95 606.60h-6.9M152.05 620.80h6.9M974.95 620.80h-6.9M289.20 350.95v12.8M289.20 635.00v-12.8M426.35 350.95v12.8M426.35 635.00v-12.8M563.50 350.95v12.8M563.50 635.00v-12.8M700.65 350.95v12.8M700.65 635.00v-12.8M837.80 350.95v12.8M837.80 635.00v-12.8M220.62 350.95v6.9M220.62 635.00v-6.9M357.78 350.95v6.9M357.78 635.00v-6.9M494.93 350.95v6.9M494.93 635.00v-6.9M632.08 350.95v6.9M632.08 635.00v-6.9M769.23 350.95v6.9M769.23 635.00v-6.9M906.38 350.95v6.9M906.38 635.00v-6.9"/>
<text class="tk n" transform="translate(134.3 359.85) scale(1.085 1)" text-anchor="end">−0.02</text>
<text class="tk n" transform="translate(134.3 430.86) scale(1.085 1)" text-anchor="end">−0.01</text>
<text class="tk n" transform="translate(134.3 501.88) scale(1.085 1)" text-anchor="end">0</text>
<text class="tk n" transform="translate(134.3 572.89) scale(1.085 1)" text-anchor="end">0.01</text>
<text class="tk n" transform="translate(134.3 643.90) scale(1.085 1)" text-anchor="end">0.02</text>
<text class="tk n" transform="translate(152.05 668.10) scale(1.085 1)" text-anchor="middle">0.94</text>
<text class="tk n" transform="translate(289.20 668.10) scale(1.085 1)" text-anchor="middle">0.96</text>
<text class="tk n" transform="translate(426.35 668.10) scale(1.085 1)" text-anchor="middle">0.98</text>
<text class="tk n" transform="translate(563.50 668.10) scale(1.085 1)" text-anchor="middle">0.00</text>
<text class="tk n" transform="translate(700.65 668.10) scale(1.085 1)" text-anchor="middle">0.02</text>
<text class="tk n" transform="translate(837.80 668.10) scale(1.085 1)" text-anchor="middle">0.04</text>
<text class="tk n" transform="translate(974.95 668.10) scale(1.085 1)" text-anchor="middle">0.06</text>
<g transform="translate(26.2 568.00) rotate(-90)"><text class="big" x="-2.3 20.2 31.9 52.4 78.9 96.2">Δ(b+y)</text><text class="big" transform="translate(111.9 2.6) skewX(-12) scale(1 1.32)" style="stroke-width:.3px">/</text><text class="big n" x="132.6">2</text></g>
</g>
<g class="d"><circle cx="165.7" cy="460.2" r="3.1"/><circle cx="158.7" cy="525.1" r="3.1"/><circle cx="180.4" cy="515.1" r="3.1"/><circle cx="183.2" cy="518.6" r="3.1"/><circle cx="199.2" cy="485.1" r="3.1"/><circle cx="202.9" cy="490.6" r="3.1"/><circle cx="211.6" cy="488.4" r="3.1"/><circle cx="222.4" cy="467.9" r="3.1"/><circle cx="238.1" cy="502.1" r="3.1"/><circle cx="260.3" cy="507.6" r="3.1"/><circle cx="286.5" cy="491.4" r="3.1"/><circle cx="299.2" cy="489.9" r="3.1"/><circle cx="307.9" cy="504.1" r="3.1"/><circle cx="316.7" cy="519.3" r="3.1"/><circle cx="308.7" cy="532.5" r="3.1"/><circle cx="300.0" cy="539.0" r="3.1"/><circle cx="335.6" cy="514.1" r="3.1"/><circle cx="344.9" cy="487.9" r="3.1"/><circle cx="353.6" cy="499.6" r="3.1"/><circle cx="375.0" cy="488.6" r="3.1"/><circle cx="382.8" cy="495.1" r="3.1"/><circle cx="390.8" cy="490.1" r="3.1"/><circle cx="389.5" cy="524.8" r="3.1"/><circle cx="402.5" cy="490.6" r="3.1"/><circle cx="409.5" cy="494.9" r="3.1"/><circle cx="411.7" cy="471.7" r="3.1"/><circle cx="420.0" cy="466.4" r="3.1"/><circle cx="405.5" cy="534.3" r="3.1"/><circle cx="441.4" cy="469.9" r="3.1"/><circle cx="451.9" cy="464.2" r="3.1"/><circle cx="439.9" cy="543.8" r="3.1"/><circle cx="459.1" cy="490.9" r="3.1"/><circle cx="463.1" cy="505.3" r="3.1"/><circle cx="470.9" cy="510.1" r="3.1"/><circle cx="474.4" cy="512.8" r="3.1"/><circle cx="478.3" cy="472.2" r="3.1"/><circle cx="478.3" cy="499.6" r="3.1"/><circle cx="490.1" cy="516.8" r="3.1"/><circle cx="507.0" cy="474.4" r="3.1"/><circle cx="514.3" cy="493.1" r="3.1"/><circle cx="519.5" cy="459.4" r="3.1"/><circle cx="524.8" cy="507.1" r="3.1"/><circle cx="548.5" cy="481.6" r="3.1"/><circle cx="562.7" cy="480.6" r="3.1"/><circle cx="559.9" cy="517.1" r="3.1"/><circle cx="563.2" cy="516.3" r="3.1"/><circle cx="583.1" cy="529.1" r="3.1"/><circle cx="588.6" cy="488.1" r="3.1"/><circle cx="598.9" cy="486.9" r="3.1"/><circle cx="592.1" cy="503.9" r="3.1"/><circle cx="636.0" cy="460.7" r="3.1"/><circle cx="651.0" cy="523.1" r="3.1"/><circle cx="654.2" cy="493.9" r="3.1"/><circle cx="668.2" cy="497.6" r="3.1"/><circle cx="683.2" cy="511.6" r="3.1"/><circle cx="697.9" cy="489.1" r="3.1"/><circle cx="709.9" cy="505.3" r="3.1"/><circle cx="747.5" cy="500.9" r="3.1"/><circle cx="764.5" cy="500.6" r="3.1"/><circle cx="780.2" cy="485.1" r="3.1"/><circle cx="780.5" cy="494.1" r="3.1"/><circle cx="789.2" cy="469.7" r="3.1"/><circle cx="794.7" cy="459.2" r="3.1"/><circle cx="803.2" cy="488.4" r="3.1"/><circle cx="813.2" cy="473.2" r="3.1"/><circle cx="823.6" cy="480.6" r="3.1"/><circle cx="825.4" cy="451.2" r="3.1"/><circle cx="847.1" cy="464.4" r="3.1"/><circle cx="846.1" cy="468.9" r="3.1"/><circle cx="840.3" cy="493.1" r="3.1"/><circle cx="852.1" cy="510.8" r="3.1"/><circle cx="875.8" cy="490.1" r="3.1"/><circle cx="877.5" cy="476.2" r="3.1"/><circle cx="890.3" cy="486.5" r="3.1"/><circle cx="908.0" cy="505.8" r="3.1"/><circle cx="924.0" cy="490.9" r="3.1"/><circle cx="932.4" cy="483.4" r="3.1"/><circle cx="946.5" cy="498.9" r="3.1"/><circle cx="955.4" cy="475.5" r="3.1"/><circle cx="968.0" cy="503.4" r="3.1"/><circle cx="964.9" cy="511.1" r="3.1"/></g>
<path d="M152.05 492.88H546.7V517.6H580.9V492.88H974.95" fill="none" stroke="#231f20" stroke-width="2.4" stroke-linejoin="miter"/>
<path d="M290.9 364.75V635.00" stroke="#231f20" stroke-width="3.3" stroke-linecap="round" stroke-dasharray="3.3 18.96"/>
<path d="M835.9 360.25V635.00" stroke="#231f20" stroke-width="3.3" stroke-linecap="round" stroke-dasharray="3.3 18.96"/>
<g id="p2">
<rect class="ax" x="152.05" y="691.95" width="822.90" height="284.05"/>
<path class="ax" style="stroke-linecap:butt" d="M152.05 706.15h6.9M974.95 706.15h-6.9M152.05 720.36h6.9M974.95 720.36h-6.9M152.05 734.56h6.9M974.95 734.56h-6.9M152.05 748.76h6.9M974.95 748.76h-6.9M152.05 762.96h12.8M974.95 762.96h-12.8M152.05 777.17h6.9M974.95 777.17h-6.9M152.05 791.37h6.9M974.95 791.37h-6.9M152.05 805.57h6.9M974.95 805.57h-6.9M152.05 819.77h6.9M974.95 819.77h-6.9M152.05 833.98h12.8M974.95 833.98h-12.8M152.05 848.18h6.9M974.95 848.18h-6.9M152.05 862.38h6.9M974.95 862.38h-6.9M152.05 876.58h6.9M974.95 876.58h-6.9M152.05 890.79h6.9M974.95 890.79h-6.9M152.05 904.99h12.8M974.95 904.99h-12.8M152.05 919.19h6.9M974.95 919.19h-6.9M152.05 933.39h6.9M974.95 933.39h-6.9M152.05 947.60h6.9M974.95 947.60h-6.9M152.05 961.80h6.9M974.95 961.80h-6.9M316.63 691.95v12.8M316.63 976.00v-12.8M481.21 691.95v12.8M481.21 976.00v-12.8M645.79 691.95v12.8M645.79 976.00v-12.8M810.37 691.95v12.8M810.37 976.00v-12.8M234.34 691.95v6.9M234.34 976.00v-6.9M398.92 691.95v6.9M398.92 976.00v-6.9M563.50 691.95v6.9M563.50 976.00v-6.9M728.08 691.95v6.9M728.08 976.00v-6.9M892.66 691.95v6.9M892.66 976.00v-6.9"/>
<text class="tk n" transform="translate(134.3 700.85) scale(1.085 1)" text-anchor="end">−0.02</text>
<text class="tk n" transform="translate(134.3 771.86) scale(1.085 1)" text-anchor="end">−0.01</text>
<text class="tk n" transform="translate(134.3 842.88) scale(1.085 1)" text-anchor="end">0</text>
<text class="tk n" transform="translate(134.3 913.89) scale(1.085 1)" text-anchor="end">0.01</text>
<text class="tk n" transform="translate(134.3 984.90) scale(1.085 1)" text-anchor="end">0.02</text>
<text class="tk n" transform="translate(152.05 1009.10) scale(1.085 1)" text-anchor="middle">0.8</text>
<text class="tk n" transform="translate(316.63 1009.10) scale(1.085 1)" text-anchor="middle">0.0</text>
<text class="tk n" transform="translate(481.21 1009.10) scale(1.085 1)" text-anchor="middle">0.2</text>
<text class="tk n" transform="translate(645.79 1009.10) scale(1.085 1)" text-anchor="middle">0.4</text>
<text class="tk n" transform="translate(810.37 1009.10) scale(1.085 1)" text-anchor="middle">0.6</text>
<text class="tk n" transform="translate(974.95 1009.10) scale(1.085 1)" text-anchor="middle">0.8</text>
<g transform="translate(26.2 909.00) rotate(-90)"><text class="big" x="-2.3 20.2 31.9 52.4 78.9 96.2">Δ(b+y)</text><text class="big" transform="translate(111.9 2.6) skewX(-12) scale(1 1.32)" style="stroke-width:.3px">/</text><text class="big n" x="132.6">2</text></g>
</g>
<g class="d"><circle cx="160.4" cy="793.3" r="3.1"/><circle cx="163.6" cy="795.9" r="3.1"/><circle cx="167.9" cy="792.0" r="3.1"/><circle cx="166.9" cy="798.5" r="3.1"/><circle cx="168.2" cy="801.1" r="3.1"/><circle cx="165.6" cy="806.3" r="3.1"/><circle cx="161.9" cy="810.2" r="3.1"/><circle cx="153.9" cy="818.9" r="3.1"/><circle cx="161.7" cy="821.2" r="3.1"/><circle cx="164.3" cy="819.9" r="3.1"/><circle cx="153.9" cy="827.7" r="3.1"/><circle cx="156.5" cy="835.5" r="3.1"/><circle cx="160.4" cy="836.1" r="3.1"/><circle cx="159.7" cy="839.4" r="3.1"/><circle cx="162.3" cy="841.3" r="3.1"/><circle cx="161.7" cy="844.5" r="3.1"/><circle cx="160.4" cy="846.5" r="3.1"/><circle cx="156.7" cy="853.6" r="3.1"/><circle cx="152.6" cy="874.4" r="3.1"/><circle cx="167.9" cy="836.1" r="3.1"/><circle cx="167.9" cy="857.5" r="3.1"/><circle cx="169.5" cy="860.1" r="3.1"/><circle cx="182.7" cy="792.0" r="3.1"/><circle cx="188.3" cy="792.3" r="3.1"/><circle cx="180.7" cy="795.5" r="3.1"/><circle cx="187.0" cy="802.4" r="3.1"/><circle cx="191.3" cy="799.1" r="3.1"/><circle cx="191.5" cy="805.0" r="3.1"/><circle cx="179.2" cy="810.8" r="3.1"/><circle cx="183.5" cy="809.5" r="3.1"/><circle cx="184.4" cy="812.1" r="3.1"/><circle cx="173.4" cy="816.3" r="3.1"/><circle cx="175.3" cy="819.2" r="3.1"/><circle cx="171.8" cy="821.2" r="3.1"/><circle cx="175.9" cy="822.5" r="3.1"/><circle cx="180.5" cy="820.5" r="3.1"/><circle cx="177.9" cy="824.4" r="3.1"/><circle cx="173.7" cy="829.0" r="3.1"/><circle cx="173.4" cy="832.9" r="3.1"/><circle cx="175.3" cy="836.8" r="3.1"/><circle cx="175.9" cy="840.0" r="3.1"/><circle cx="179.8" cy="831.6" r="3.1"/><circle cx="185.0" cy="829.0" r="3.1"/><circle cx="187.6" cy="829.6" r="3.1"/><circle cx="184.4" cy="832.9" r="3.1"/><circle cx="171.8" cy="844.5" r="3.1"/><circle cx="179.6" cy="849.5" r="3.1"/><circle cx="185.0" cy="845.2" r="3.1"/><circle cx="187.0" cy="841.9" r="3.1"/><circle cx="188.3" cy="838.1" r="3.1"/><circle cx="179.8" cy="855.6" r="3.1"/><circle cx="186.7" cy="854.9" r="3.1"/><circle cx="172.1" cy="862.1" r="3.1"/><circle cx="184.4" cy="863.4" r="3.1"/><circle cx="187.6" cy="866.0" r="3.1"/><circle cx="188.5" cy="869.8" r="3.1"/><circle cx="175.6" cy="873.3" r="3.1"/><circle cx="171.8" cy="892.3" r="3.1"/><circle cx="202.0" cy="776.8" r="3.1"/><circle cx="202.0" cy="784.0" r="3.1"/><circle cx="195.4" cy="801.7" r="3.1"/><circle cx="192.2" cy="814.1" r="3.1"/><circle cx="190.6" cy="817.0" r="3.1"/><circle cx="198.3" cy="814.7" r="3.1"/><circle cx="199.0" cy="817.9" r="3.1"/><circle cx="199.6" cy="821.5" r="3.1"/><circle cx="194.4" cy="824.4" r="3.1"/><circle cx="191.5" cy="829.0" r="3.1"/><circle cx="197.4" cy="829.0" r="3.1"/><circle cx="201.9" cy="827.7" r="3.1"/><circle cx="206.4" cy="828.3" r="3.1"/><circle cx="192.8" cy="834.2" r="3.1"/><circle cx="196.7" cy="832.9" r="3.1"/><circle cx="201.2" cy="832.2" r="3.1"/><circle cx="204.5" cy="835.5" r="3.1"/><circle cx="194.8" cy="838.7" r="3.1"/><circle cx="199.9" cy="838.1" r="3.1"/><circle cx="205.8" cy="837.4" r="3.1"/><circle cx="190.2" cy="836.8" r="3.1"/><circle cx="192.2" cy="849.5" r="3.1"/><circle cx="203.2" cy="851.0" r="3.1"/><circle cx="206.4" cy="854.3" r="3.1"/><circle cx="209.7" cy="857.5" r="3.1"/><circle cx="199.9" cy="860.4" r="3.1"/><circle cx="205.8" cy="863.4" r="3.1"/><circle cx="196.1" cy="866.2" r="3.1"/><circle cx="202.5" cy="867.9" r="3.1"/><circle cx="203.2" cy="871.8" r="3.1"/><circle cx="199.7" cy="873.1" r="3.1"/><circle cx="191.8" cy="874.6" r="3.1"/><circle cx="207.3" cy="817.3" r="3.1"/><circle cx="209.4" cy="801.7" r="3.1"/><circle cx="220.7" cy="801.5" r="3.1"/><circle cx="221.0" cy="805.6" r="3.1"/><circle cx="217.1" cy="810.4" r="3.1"/><circle cx="220.8" cy="817.6" r="3.1"/><circle cx="216.7" cy="838.7" r="3.1"/><circle cx="225.6" cy="840.7" r="3.1"/><circle cx="228.2" cy="839.4" r="3.1"/><circle cx="224.6" cy="857.5" r="3.1"/><circle cx="224.5" cy="871.8" r="3.1"/><circle cx="217.1" cy="888.0" r="3.1"/><circle cx="228.5" cy="820.3" r="3.1"/><circle cx="243.4" cy="793.9" r="3.1"/><circle cx="237.2" cy="804.1" r="3.1"/><circle cx="237.4" cy="818.2" r="3.1"/><circle cx="243.7" cy="824.8" r="3.1"/><circle cx="239.5" cy="841.3" r="3.1"/><circle cx="243.1" cy="844.9" r="3.1"/><circle cx="245.1" cy="860.5" r="3.1"/><circle cx="262.9" cy="791.0" r="3.1"/><circle cx="259.9" cy="796.8" r="3.1"/><circle cx="254.8" cy="824.7" r="3.1"/><circle cx="260.0" cy="826.4" r="3.1"/><circle cx="251.2" cy="830.9" r="3.1"/><circle cx="253.8" cy="832.9" r="3.1"/><circle cx="258.3" cy="832.2" r="3.1"/><circle cx="258.3" cy="839.1" r="3.1"/><circle cx="263.5" cy="840.0" r="3.1"/><circle cx="262.9" cy="843.9" r="3.1"/><circle cx="258.7" cy="846.5" r="3.1"/><circle cx="256.4" cy="850.4" r="3.1"/><circle cx="255.7" cy="853.0" r="3.1"/><circle cx="251.2" cy="848.7" r="3.1"/><circle cx="260.0" cy="860.5" r="3.1"/><circle cx="264.2" cy="860.8" r="3.1"/><circle cx="261.6" cy="868.2" r="3.1"/><circle cx="252.5" cy="875.2" r="3.1"/><circle cx="259.8" cy="875.4" r="3.1"/><circle cx="271.3" cy="808.5" r="3.1"/><circle cx="271.3" cy="815.4" r="3.1"/><circle cx="278.4" cy="806.9" r="3.1"/><circle cx="279.1" cy="795.2" r="3.1"/><circle cx="275.2" cy="827.7" r="3.1"/><circle cx="271.3" cy="838.1" r="3.1"/><circle cx="276.5" cy="834.2" r="3.1"/><circle cx="279.1" cy="836.1" r="3.1"/><circle cx="275.2" cy="843.2" r="3.1"/><circle cx="275.2" cy="845.8" r="3.1"/><circle cx="271.3" cy="848.4" r="3.1"/><circle cx="267.4" cy="851.3" r="3.1"/><circle cx="282.6" cy="800.4" r="3.1"/><circle cx="287.8" cy="814.7" r="3.1"/><circle cx="286.5" cy="821.5" r="3.1"/><circle cx="289.7" cy="824.4" r="3.1"/><circle cx="282.6" cy="827.0" r="3.1"/><circle cx="281.3" cy="830.3" r="3.1"/><circle cx="282.6" cy="847.4" r="3.1"/><circle cx="286.2" cy="871.8" r="3.1"/><circle cx="294.0" cy="802.0" r="3.1"/><circle cx="294.9" cy="807.6" r="3.1"/><circle cx="294.3" cy="815.4" r="3.1"/><circle cx="297.5" cy="817.9" r="3.1"/><circle cx="297.5" cy="821.2" r="3.1"/><circle cx="293.6" cy="836.8" r="3.1"/><circle cx="294.0" cy="841.3" r="3.1"/><circle cx="297.5" cy="845.2" r="3.1"/><circle cx="301.4" cy="842.2" r="3.1"/><circle cx="301.1" cy="856.2" r="3.1"/><circle cx="305.3" cy="787.7" r="3.1"/><circle cx="301.7" cy="796.0" r="3.1"/><circle cx="303.1" cy="805.0" r="3.1"/><circle cx="301.8" cy="808.9" r="3.1"/><circle cx="308.5" cy="803.0" r="3.1"/><circle cx="313.1" cy="805.6" r="3.1"/><circle cx="312.8" cy="809.5" r="3.1"/><circle cx="312.7" cy="816.0" r="3.1"/><circle cx="309.2" cy="821.2" r="3.1"/><circle cx="305.3" cy="823.1" r="3.1"/><circle cx="305.0" cy="827.0" r="3.1"/><circle cx="312.7" cy="846.9" r="3.1"/><circle cx="320.2" cy="832.2" r="3.1"/><circle cx="324.1" cy="836.1" r="3.1"/><circle cx="320.6" cy="839.1" r="3.1"/><circle cx="324.1" cy="805.0" r="3.1"/><circle cx="328.0" cy="810.2" r="3.1"/><circle cx="323.9" cy="857.5" r="3.1"/><circle cx="331.5" cy="854.5" r="3.1"/><circle cx="348.2" cy="785.1" r="3.1"/><circle cx="358.0" cy="785.1" r="3.1"/><circle cx="354.6" cy="816.7" r="3.1"/><circle cx="354.3" cy="820.5" r="3.1"/><circle cx="350.7" cy="827.7" r="3.1"/><circle cx="346.8" cy="830.9" r="3.1"/><circle cx="358.2" cy="830.7" r="3.1"/><circle cx="350.7" cy="839.6" r="3.1"/><circle cx="346.8" cy="856.2" r="3.1"/><circle cx="365.6" cy="807.6" r="3.1"/><circle cx="362.0" cy="812.8" r="3.1"/><circle cx="361.7" cy="817.3" r="3.1"/><circle cx="363.0" cy="821.2" r="3.1"/><circle cx="373.7" cy="824.7" r="3.1"/><circle cx="369.5" cy="834.2" r="3.1"/><circle cx="365.9" cy="843.0" r="3.1"/><circle cx="374.7" cy="840.9" r="3.1"/><circle cx="378.3" cy="839.1" r="3.1"/><circle cx="369.3" cy="848.7" r="3.1"/><circle cx="371.5" cy="851.7" r="3.1"/><circle cx="373.4" cy="854.3" r="3.1"/><circle cx="373.1" cy="857.5" r="3.1"/><circle cx="365.6" cy="856.2" r="3.1"/><circle cx="369.3" cy="863.7" r="3.1"/><circle cx="377.0" cy="806.9" r="3.1"/><circle cx="377.0" cy="814.1" r="3.1"/><circle cx="380.5" cy="816.7" r="3.1"/><circle cx="376.7" cy="878.0" r="3.1"/><circle cx="384.7" cy="792.6" r="3.1"/><circle cx="384.4" cy="819.2" r="3.1"/><circle cx="388.3" cy="819.9" r="3.1"/><circle cx="390.3" cy="838.7" r="3.1"/><circle cx="392.2" cy="841.3" r="3.1"/><circle cx="380.9" cy="850.4" r="3.1"/><circle cx="380.5" cy="853.6" r="3.1"/><circle cx="392.2" cy="857.5" r="3.1"/><circle cx="389.6" cy="860.4" r="3.1"/><circle cx="396.1" cy="808.2" r="3.1"/><circle cx="396.8" cy="810.2" r="3.1"/><circle cx="396.8" cy="821.2" r="3.1"/><circle cx="398.7" cy="824.4" r="3.1"/><circle cx="404.9" cy="784.5" r="3.1"/><circle cx="405.2" cy="795.9" r="3.1"/><circle cx="409.1" cy="794.6" r="3.1"/><circle cx="400.9" cy="802.0" r="3.1"/><circle cx="403.2" cy="817.9" r="3.1"/><circle cx="403.9" cy="821.2" r="3.1"/><circle cx="402.6" cy="828.3" r="3.1"/><circle cx="403.2" cy="831.6" r="3.1"/><circle cx="398.7" cy="835.5" r="3.1"/><circle cx="403.2" cy="844.5" r="3.1"/><circle cx="409.7" cy="845.2" r="3.1"/><circle cx="409.7" cy="852.3" r="3.1"/><circle cx="407.1" cy="869.6" r="3.1"/><circle cx="426.0" cy="791.0" r="3.1"/><circle cx="423.4" cy="796.8" r="3.1"/><circle cx="429.5" cy="799.4" r="3.1"/><circle cx="412.3" cy="814.7" r="3.1"/><circle cx="419.7" cy="815.4" r="3.1"/><circle cx="422.3" cy="819.2" r="3.1"/><circle cx="423.0" cy="823.1" r="3.1"/><circle cx="426.2" cy="821.8" r="3.1"/><circle cx="422.3" cy="827.0" r="3.1"/><circle cx="414.9" cy="824.7" r="3.1"/><circle cx="411.9" cy="838.7" r="3.1"/><circle cx="415.2" cy="841.3" r="3.1"/><circle cx="418.4" cy="844.3" r="3.1"/><circle cx="423.6" cy="842.2" r="3.1"/><circle cx="414.5" cy="853.6" r="3.1"/><circle cx="418.8" cy="859.7" r="3.1"/><circle cx="422.3" cy="863.7" r="3.1"/><circle cx="430.8" cy="821.6" r="3.1"/><circle cx="441.1" cy="794.9" r="3.1"/><circle cx="440.9" cy="804.3" r="3.1"/><circle cx="450.2" cy="808.6" r="3.1"/><circle cx="445.0" cy="813.1" r="3.1"/><circle cx="437.2" cy="817.3" r="3.1"/><circle cx="438.8" cy="822.7" r="3.1"/><circle cx="449.8" cy="824.7" r="3.1"/><circle cx="442.4" cy="834.8" r="3.1"/><circle cx="446.3" cy="838.1" r="3.1"/><circle cx="445.4" cy="846.5" r="3.1"/><circle cx="448.7" cy="853.4" r="3.1"/><circle cx="438.7" cy="864.0" r="3.1"/><circle cx="445.0" cy="871.8" r="3.1"/><circle cx="442.4" cy="875.4" r="3.1"/><circle cx="448.7" cy="893.6" r="3.1"/><circle cx="458.0" cy="818.3" r="3.1"/><circle cx="457.6" cy="826.0" r="3.1"/><circle cx="452.8" cy="831.6" r="3.1"/><circle cx="457.4" cy="838.1" r="3.1"/><circle cx="461.2" cy="836.1" r="3.1"/><circle cx="460.6" cy="839.4" r="3.1"/><circle cx="457.4" cy="847.1" r="3.1"/><circle cx="459.7" cy="849.7" r="3.1"/><circle cx="467.7" cy="834.2" r="3.1"/><circle cx="465.0" cy="863.4" r="3.1"/><circle cx="464.9" cy="877.4" r="3.1"/><circle cx="467.5" cy="876.1" r="3.1"/><circle cx="469.0" cy="802.0" r="3.1"/><circle cx="475.3" cy="801.7" r="3.1"/><circle cx="480.7" cy="813.4" r="3.1"/><circle cx="472.7" cy="821.6" r="3.1"/><circle cx="472.7" cy="827.7" r="3.1"/><circle cx="480.7" cy="820.9" r="3.1"/><circle cx="484.3" cy="819.0" r="3.1"/><circle cx="484.2" cy="828.6" r="3.1"/><circle cx="472.9" cy="835.5" r="3.1"/><circle cx="478.8" cy="837.7" r="3.1"/><circle cx="483.0" cy="846.5" r="3.1"/><circle cx="472.7" cy="850.0" r="3.1"/><circle cx="482.7" cy="854.7" r="3.1"/><circle cx="484.6" cy="857.5" r="3.1"/><circle cx="483.9" cy="860.4" r="3.1"/><circle cx="478.8" cy="861.4" r="3.1"/><circle cx="494.2" cy="795.8" r="3.1"/><circle cx="498.2" cy="805.6" r="3.1"/><circle cx="501.7" cy="805.6" r="3.1"/><circle cx="490.6" cy="815.0" r="3.1"/><circle cx="490.0" cy="834.6" r="3.1"/><circle cx="496.3" cy="831.6" r="3.1"/><circle cx="500.8" cy="829.0" r="3.1"/><circle cx="499.5" cy="832.2" r="3.1"/><circle cx="499.3" cy="839.0" r="3.1"/><circle cx="505.4" cy="836.8" r="3.1"/><circle cx="493.7" cy="842.6" r="3.1"/><circle cx="490.4" cy="846.5" r="3.1"/><circle cx="493.0" cy="849.1" r="3.1"/><circle cx="495.6" cy="848.4" r="3.1"/><circle cx="494.3" cy="852.3" r="3.1"/><circle cx="491.5" cy="856.2" r="3.1"/><circle cx="493.7" cy="860.4" r="3.1"/><circle cx="497.6" cy="860.4" r="3.1"/><circle cx="503.1" cy="855.6" r="3.1"/><circle cx="506.7" cy="857.5" r="3.1"/><circle cx="502.8" cy="866.0" r="3.1"/><circle cx="503.1" cy="870.5" r="3.1"/><circle cx="497.8" cy="875.0" r="3.1"/><circle cx="509.2" cy="864.9" r="3.1"/><circle cx="523.9" cy="793.9" r="3.1"/><circle cx="520.3" cy="811.7" r="3.1"/><circle cx="510.5" cy="831.6" r="3.1"/><circle cx="517.7" cy="830.3" r="3.1"/><circle cx="517.0" cy="834.2" r="3.1"/><circle cx="510.5" cy="838.7" r="3.1"/><circle cx="513.8" cy="840.0" r="3.1"/><circle cx="517.7" cy="840.0" r="3.1"/><circle cx="520.3" cy="836.8" r="3.1"/><circle cx="510.9" cy="847.1" r="3.1"/><circle cx="513.1" cy="850.4" r="3.1"/><circle cx="518.1" cy="856.6" r="3.1"/><circle cx="524.2" cy="848.4" r="3.1"/><circle cx="530.7" cy="828.6" r="3.1"/><circle cx="533.2" cy="815.4" r="3.1"/><circle cx="537.8" cy="814.1" r="3.1"/><circle cx="532.6" cy="819.9" r="3.1"/><circle cx="536.5" cy="822.5" r="3.1"/><circle cx="531.6" cy="860.4" r="3.1"/><circle cx="539.7" cy="812.1" r="3.1"/><circle cx="553.4" cy="827.0" r="3.1"/><circle cx="555.6" cy="837.4" r="3.1"/><circle cx="559.5" cy="836.5" r="3.1"/><circle cx="559.5" cy="853.6" r="3.1"/><circle cx="556.0" cy="861.4" r="3.1"/><circle cx="551.9" cy="871.8" r="3.1"/><circle cx="551.9" cy="875.0" r="3.1"/><circle cx="563.4" cy="820.9" r="3.1"/><circle cx="567.9" cy="810.2" r="3.1"/><circle cx="564.0" cy="830.3" r="3.1"/><circle cx="567.2" cy="829.6" r="3.1"/><circle cx="566.6" cy="834.2" r="3.1"/><circle cx="570.7" cy="834.8" r="3.1"/><circle cx="574.8" cy="828.1" r="3.1"/><circle cx="574.6" cy="844.9" r="3.1"/><circle cx="567.1" cy="853.0" r="3.1"/><circle cx="563.4" cy="860.5" r="3.1"/><circle cx="570.9" cy="875.9" r="3.1"/><circle cx="578.5" cy="806.8" r="3.1"/><circle cx="575.0" cy="814.7" r="3.1"/><circle cx="579.2" cy="816.7" r="3.1"/><circle cx="578.5" cy="853.2" r="3.1"/><circle cx="586.7" cy="816.3" r="3.1"/><circle cx="589.9" cy="816.7" r="3.1"/><circle cx="593.5" cy="815.4" r="3.1"/><circle cx="593.6" cy="821.8" r="3.1"/><circle cx="593.5" cy="801.3" r="3.1"/><circle cx="587.4" cy="830.3" r="3.1"/><circle cx="589.9" cy="832.9" r="3.1"/><circle cx="590.6" cy="836.1" r="3.1"/><circle cx="589.3" cy="839.1" r="3.1"/><circle cx="589.9" cy="843.0" r="3.1"/><circle cx="594.5" cy="842.6" r="3.1"/><circle cx="598.0" cy="851.7" r="3.1"/><circle cx="597.1" cy="854.9" r="3.1"/><circle cx="593.8" cy="860.1" r="3.1"/><circle cx="590.6" cy="861.4" r="3.1"/><circle cx="601.0" cy="824.4" r="3.1"/><circle cx="597.7" cy="829.0" r="3.1"/><circle cx="600.3" cy="830.9" r="3.1"/><circle cx="604.9" cy="819.9" r="3.1"/><circle cx="608.8" cy="819.2" r="3.1"/><circle cx="612.3" cy="817.3" r="3.1"/><circle cx="608.4" cy="810.8" r="3.1"/><circle cx="608.8" cy="785.9" r="3.1"/><circle cx="612.4" cy="791.1" r="3.1"/><circle cx="615.9" cy="791.4" r="3.1"/><circle cx="615.9" cy="808.2" r="3.1"/><circle cx="619.4" cy="809.8" r="3.1"/><circle cx="619.4" cy="821.2" r="3.1"/><circle cx="616.3" cy="824.2" r="3.1"/><circle cx="612.0" cy="836.8" r="3.1"/><circle cx="615.2" cy="838.1" r="3.1"/><circle cx="619.1" cy="836.8" r="3.1"/><circle cx="621.1" cy="835.5" r="3.1"/><circle cx="612.1" cy="848.2" r="3.1"/><circle cx="604.9" cy="857.5" r="3.1"/><circle cx="613.6" cy="867.5" r="3.1"/><circle cx="619.8" cy="862.7" r="3.1"/><circle cx="623.7" cy="772.9" r="3.1"/><circle cx="627.3" cy="791.4" r="3.1"/><circle cx="635.1" cy="792.0" r="3.1"/><circle cx="628.9" cy="802.0" r="3.1"/><circle cx="636.0" cy="803.0" r="3.1"/><circle cx="638.3" cy="808.9" r="3.1"/><circle cx="634.4" cy="824.4" r="3.1"/><circle cx="631.1" cy="827.4" r="3.1"/><circle cx="630.8" cy="839.1" r="3.1"/><circle cx="623.7" cy="852.1" r="3.1"/><circle cx="627.2" cy="858.6" r="3.1"/><circle cx="646.4" cy="799.1" r="3.1"/><circle cx="651.3" cy="809.9" r="3.1"/><circle cx="646.4" cy="816.0" r="3.1"/><circle cx="646.4" cy="826.0" r="3.1"/><circle cx="650.3" cy="849.5" r="3.1"/><circle cx="659.1" cy="802.6" r="3.1"/><circle cx="657.8" cy="814.4" r="3.1"/><circle cx="661.3" cy="828.7" r="3.1"/><circle cx="665.2" cy="832.2" r="3.1"/><circle cx="661.3" cy="834.8" r="3.1"/><circle cx="659.0" cy="845.2" r="3.1"/><circle cx="665.2" cy="843.2" r="3.1"/><circle cx="669.1" cy="839.4" r="3.1"/><circle cx="657.8" cy="863.7" r="3.1"/><circle cx="653.9" cy="878.0" r="3.1"/><circle cx="674.3" cy="815.7" r="3.1"/><circle cx="681.9" cy="820.9" r="3.1"/><circle cx="678.0" cy="826.4" r="3.1"/><circle cx="681.4" cy="828.3" r="3.1"/><circle cx="672.6" cy="834.8" r="3.1"/><circle cx="676.5" cy="834.2" r="3.1"/><circle cx="678.0" cy="841.9" r="3.1"/><circle cx="670.0" cy="843.2" r="3.1"/><circle cx="672.6" cy="848.7" r="3.1"/><circle cx="673.9" cy="855.2" r="3.1"/><circle cx="676.5" cy="860.8" r="3.1"/><circle cx="680.4" cy="866.9" r="3.1"/><circle cx="676.7" cy="870.5" r="3.1"/><circle cx="685.3" cy="872.0" r="3.1"/><circle cx="685.6" cy="838.1" r="3.1"/><circle cx="680.1" cy="852.3" r="3.1"/><circle cx="683.6" cy="850.8" r="3.1"/><circle cx="687.5" cy="849.5" r="3.1"/><circle cx="689.2" cy="852.3" r="3.1"/><circle cx="697.0" cy="794.9" r="3.1"/><circle cx="696.6" cy="826.4" r="3.1"/><circle cx="699.6" cy="829.6" r="3.1"/><circle cx="700.5" cy="834.2" r="3.1"/><circle cx="700.1" cy="838.7" r="3.1"/><circle cx="691.4" cy="835.5" r="3.1"/><circle cx="695.6" cy="847.4" r="3.1"/><circle cx="691.4" cy="857.8" r="3.1"/><circle cx="695.9" cy="856.9" r="3.1"/><circle cx="700.1" cy="857.5" r="3.1"/><circle cx="699.6" cy="865.6" r="3.1"/><circle cx="695.3" cy="874.4" r="3.1"/><circle cx="695.3" cy="880.6" r="3.1"/><circle cx="699.2" cy="883.5" r="3.1"/><circle cx="704.4" cy="849.7" r="3.1"/><circle cx="708.3" cy="851.7" r="3.1"/><circle cx="708.3" cy="834.8" r="3.1"/><circle cx="711.9" cy="806.9" r="3.1"/><circle cx="718.0" cy="811.1" r="3.1"/><circle cx="711.8" cy="816.0" r="3.1"/><circle cx="714.1" cy="826.0" r="3.1"/><circle cx="719.9" cy="822.7" r="3.1"/><circle cx="723.2" cy="821.8" r="3.1"/><circle cx="726.8" cy="828.7" r="3.1"/><circle cx="714.1" cy="839.1" r="3.1"/><circle cx="714.1" cy="843.0" r="3.1"/><circle cx="726.8" cy="844.9" r="3.1"/><circle cx="711.5" cy="851.0" r="3.1"/><circle cx="715.4" cy="853.6" r="3.1"/><circle cx="719.3" cy="854.3" r="3.1"/><circle cx="718.0" cy="857.5" r="3.1"/><circle cx="710.2" cy="863.7" r="3.1"/><circle cx="721.9" cy="866.3" r="3.1"/><circle cx="710.5" cy="875.0" r="3.1"/><circle cx="726.8" cy="800.4" r="3.1"/><circle cx="727.1" cy="834.2" r="3.1"/><circle cx="729.7" cy="787.7" r="3.1"/><circle cx="734.5" cy="790.3" r="3.1"/><circle cx="734.5" cy="796.2" r="3.1"/><circle cx="737.1" cy="801.1" r="3.1"/><circle cx="738.1" cy="825.5" r="3.1"/><circle cx="742.0" cy="827.0" r="3.1"/><circle cx="730.3" cy="832.9" r="3.1"/><circle cx="744.3" cy="834.2" r="3.1"/><circle cx="744.3" cy="838.1" r="3.1"/><circle cx="736.8" cy="846.5" r="3.1"/><circle cx="740.7" cy="873.3" r="3.1"/><circle cx="740.7" cy="876.7" r="3.1"/><circle cx="748.1" cy="806.9" r="3.1"/><circle cx="747.8" cy="851.7" r="3.1"/><circle cx="753.4" cy="794.6" r="3.1"/><circle cx="759.9" cy="801.7" r="3.1"/><circle cx="760.8" cy="812.4" r="3.1"/><circle cx="764.7" cy="827.7" r="3.1"/><circle cx="762.8" cy="834.2" r="3.1"/><circle cx="760.8" cy="840.4" r="3.1"/><circle cx="764.7" cy="846.7" r="3.1"/><circle cx="757.2" cy="854.7" r="3.1"/><circle cx="756.9" cy="862.3" r="3.1"/><circle cx="767.3" cy="875.4" r="3.1"/><circle cx="770.7" cy="780.7" r="3.1"/><circle cx="775.3" cy="803.3" r="3.1"/><circle cx="776.1" cy="806.5" r="3.1"/><circle cx="770.5" cy="810.2" r="3.1"/><circle cx="770.9" cy="814.1" r="3.1"/><circle cx="772.2" cy="818.2" r="3.1"/><circle cx="776.1" cy="828.6" r="3.1"/><circle cx="769.2" cy="838.1" r="3.1"/><circle cx="772.5" cy="836.1" r="3.1"/><circle cx="779.0" cy="835.5" r="3.1"/><circle cx="782.9" cy="838.7" r="3.1"/><circle cx="781.8" cy="842.6" r="3.1"/><circle cx="772.5" cy="859.1" r="3.1"/><circle cx="774.8" cy="873.3" r="3.1"/><circle cx="774.4" cy="879.8" r="3.1"/><circle cx="782.2" cy="876.3" r="3.1"/><circle cx="785.9" cy="875.3" r="3.1"/><circle cx="786.4" cy="782.3" r="3.1"/><circle cx="785.9" cy="821.2" r="3.1"/><circle cx="783.5" cy="850.0" r="3.1"/><circle cx="787.4" cy="847.1" r="3.1"/><circle cx="787.4" cy="851.0" r="3.1"/><circle cx="789.7" cy="789.8" r="3.1"/><circle cx="793.9" cy="800.4" r="3.1"/><circle cx="795.2" cy="803.0" r="3.1"/><circle cx="793.5" cy="807.2" r="3.1"/><circle cx="799.7" cy="809.5" r="3.1"/><circle cx="790.0" cy="827.0" r="3.1"/><circle cx="794.5" cy="830.9" r="3.1"/><circle cx="791.3" cy="842.6" r="3.1"/><circle cx="797.8" cy="840.7" r="3.1"/><circle cx="794.5" cy="850.4" r="3.1"/><circle cx="795.2" cy="853.6" r="3.1"/><circle cx="797.8" cy="859.2" r="3.1"/><circle cx="808.8" cy="798.5" r="3.1"/><circle cx="804.5" cy="811.5" r="3.1"/><circle cx="810.1" cy="813.4" r="3.1"/><circle cx="817.5" cy="806.9" r="3.1"/><circle cx="810.1" cy="823.8" r="3.1"/><circle cx="812.7" cy="821.2" r="3.1"/><circle cx="813.6" cy="827.0" r="3.1"/><circle cx="814.0" cy="831.6" r="3.1"/><circle cx="813.6" cy="838.1" r="3.1"/><circle cx="808.0" cy="841.3" r="3.1"/><circle cx="805.8" cy="844.5" r="3.1"/><circle cx="801.9" cy="846.5" r="3.1"/><circle cx="800.0" cy="840.0" r="3.1"/><circle cx="817.5" cy="845.6" r="3.1"/><circle cx="819.7" cy="822.1" r="3.1"/><circle cx="819.7" cy="867.2" r="3.1"/><circle cx="828.8" cy="809.5" r="3.1"/><circle cx="836.3" cy="799.8" r="3.1"/><circle cx="836.1" cy="815.7" r="3.1"/><circle cx="824.6" cy="825.7" r="3.1"/><circle cx="828.3" cy="824.4" r="3.1"/><circle cx="829.2" cy="828.3" r="3.1"/><circle cx="832.4" cy="830.9" r="3.1"/><circle cx="834.4" cy="834.8" r="3.1"/><circle cx="821.4" cy="840.7" r="3.1"/><circle cx="827.5" cy="842.6" r="3.1"/><circle cx="823.7" cy="851.7" r="3.1"/><circle cx="831.1" cy="849.1" r="3.1"/><circle cx="835.0" cy="850.0" r="3.1"/><circle cx="828.8" cy="859.9" r="3.1"/><circle cx="836.1" cy="870.5" r="3.1"/><circle cx="840.0" cy="839.6" r="3.1"/><circle cx="847.7" cy="793.3" r="3.1"/><circle cx="844.1" cy="799.8" r="3.1"/><circle cx="843.9" cy="806.7" r="3.1"/><circle cx="851.5" cy="803.7" r="3.1"/><circle cx="844.1" cy="845.6" r="3.1"/><circle cx="848.0" cy="843.9" r="3.1"/><circle cx="851.9" cy="848.4" r="3.1"/><circle cx="847.7" cy="868.3" r="3.1"/><circle cx="851.2" cy="871.5" r="3.1"/><circle cx="849.3" cy="875.9" r="3.1"/><circle cx="852.9" cy="876.3" r="3.1"/><circle cx="856.4" cy="836.1" r="3.1"/><circle cx="858.6" cy="813.1" r="3.1"/><circle cx="862.9" cy="809.8" r="3.1"/><circle cx="870.4" cy="814.7" r="3.1"/><circle cx="866.4" cy="826.8" r="3.1"/><circle cx="870.7" cy="832.2" r="3.1"/><circle cx="866.8" cy="836.1" r="3.1"/><circle cx="870.1" cy="841.7" r="3.1"/><circle cx="874.6" cy="843.2" r="3.1"/><circle cx="878.5" cy="843.2" r="3.1"/><circle cx="879.4" cy="848.4" r="3.1"/><circle cx="875.6" cy="854.0" r="3.1"/><circle cx="871.4" cy="859.9" r="3.1"/><circle cx="859.0" cy="857.5" r="3.1"/><circle cx="860.3" cy="860.8" r="3.1"/><circle cx="862.9" cy="869.2" r="3.1"/><circle cx="867.7" cy="868.5" r="3.1"/><circle cx="874.2" cy="892.8" r="3.1"/><circle cx="878.1" cy="819.9" r="3.1"/><circle cx="886.7" cy="802.4" r="3.1"/><circle cx="889.3" cy="806.3" r="3.1"/><circle cx="886.3" cy="824.4" r="3.1"/><circle cx="889.5" cy="825.1" r="3.1"/><circle cx="885.6" cy="828.7" r="3.1"/><circle cx="896.7" cy="828.7" r="3.1"/><circle cx="890.8" cy="835.5" r="3.1"/><circle cx="892.8" cy="838.7" r="3.1"/><circle cx="896.0" cy="836.1" r="3.1"/><circle cx="886.7" cy="852.3" r="3.1"/><circle cx="883.0" cy="858.4" r="3.1"/><circle cx="893.1" cy="851.7" r="3.1"/><circle cx="908.1" cy="799.5" r="3.1"/><circle cx="914.8" cy="789.4" r="3.1"/><circle cx="913.3" cy="791.7" r="3.1"/><circle cx="911.8" cy="817.6" r="3.1"/><circle cx="911.6" cy="823.8" r="3.1"/><circle cx="912.6" cy="827.7" r="3.1"/><circle cx="913.5" cy="831.6" r="3.1"/><circle cx="906.1" cy="829.0" r="3.1"/><circle cx="907.7" cy="834.2" r="3.1"/><circle cx="900.5" cy="836.1" r="3.1"/><circle cx="900.3" cy="843.2" r="3.1"/><circle cx="904.4" cy="848.7" r="3.1"/><circle cx="908.3" cy="851.0" r="3.1"/><circle cx="908.3" cy="853.9" r="3.1"/><circle cx="911.6" cy="844.5" r="3.1"/><circle cx="915.5" cy="844.5" r="3.1"/><circle cx="905.7" cy="861.4" r="3.1"/><circle cx="908.3" cy="864.7" r="3.1"/><circle cx="904.2" cy="871.1" r="3.1"/><circle cx="902.0" cy="877.0" r="3.1"/><circle cx="915.5" cy="863.4" r="3.1"/><circle cx="915.5" cy="869.6" r="3.1"/><circle cx="915.5" cy="836.8" r="3.1"/><circle cx="919.4" cy="799.1" r="3.1"/><circle cx="923.2" cy="803.7" r="3.1"/><circle cx="927.1" cy="799.8" r="3.1"/><circle cx="919.4" cy="809.8" r="3.1"/><circle cx="917.4" cy="813.7" r="3.1"/><circle cx="923.2" cy="814.7" r="3.1"/><circle cx="929.7" cy="812.1" r="3.1"/><circle cx="923.2" cy="823.1" r="3.1"/><circle cx="926.5" cy="825.1" r="3.1"/><circle cx="920.0" cy="829.6" r="3.1"/><circle cx="923.9" cy="831.6" r="3.1"/><circle cx="928.4" cy="834.2" r="3.1"/><circle cx="919.4" cy="849.7" r="3.1"/><circle cx="919.4" cy="853.0" r="3.1"/><circle cx="922.6" cy="856.6" r="3.1"/><circle cx="919.1" cy="859.5" r="3.1"/><circle cx="927.1" cy="846.5" r="3.1"/><circle cx="929.7" cy="838.1" r="3.1"/><circle cx="939.7" cy="779.3" r="3.1"/><circle cx="947.2" cy="781.6" r="3.1"/><circle cx="953.5" cy="782.0" r="3.1"/><circle cx="938.4" cy="799.8" r="3.1"/><circle cx="942.1" cy="813.7" r="3.1"/><circle cx="941.8" cy="819.9" r="3.1"/><circle cx="934.3" cy="819.2" r="3.1"/><circle cx="934.3" cy="823.1" r="3.1"/><circle cx="934.5" cy="812.8" r="3.1"/><circle cx="947.0" cy="806.3" r="3.1"/><circle cx="949.8" cy="811.5" r="3.1"/><circle cx="954.4" cy="806.7" r="3.1"/><circle cx="953.1" cy="809.5" r="3.1"/><circle cx="962.4" cy="805.6" r="3.1"/><circle cx="968.7" cy="802.0" r="3.1"/><circle cx="972.5" cy="810.8" r="3.1"/><circle cx="962.2" cy="821.2" r="3.1"/><circle cx="971.9" cy="820.5" r="3.1"/><circle cx="953.3" cy="824.2" r="3.1"/><circle cx="958.3" cy="825.7" r="3.1"/><circle cx="958.3" cy="830.3" r="3.1"/><circle cx="972.5" cy="831.3" r="3.1"/><circle cx="934.3" cy="830.9" r="3.1"/><circle cx="937.5" cy="834.2" r="3.1"/><circle cx="939.5" cy="836.8" r="3.1"/><circle cx="942.1" cy="845.2" r="3.1"/><circle cx="958.3" cy="846.2" r="3.1"/><circle cx="961.3" cy="843.9" r="3.1"/><circle cx="964.8" cy="846.2" r="3.1"/><circle cx="968.7" cy="845.8" r="3.1"/><circle cx="961.3" cy="854.3" r="3.1"/><circle cx="964.8" cy="854.0" r="3.1"/><circle cx="960.9" cy="862.1" r="3.1"/><circle cx="957.4" cy="874.4" r="3.1"/><circle cx="972.5" cy="872.4" r="3.1"/><circle cx="968.7" cy="876.3" r="3.1"/><circle cx="968.7" cy="880.2" r="3.1"/><circle cx="958.3" cy="884.4" r="3.1"/><circle cx="957.0" cy="888.7" r="3.1"/><circle cx="949.8" cy="885.4" r="3.1"/></g>
<path d="M152.05 833.88H974.95" stroke="#231f20" stroke-width="3"/>
<text class="n" transform="translate(809.30 958.25) skewX(-21.6) scale(1 1.35)" style="font-size:22.5px">/</text>
<g id="p3">
<rect class="ax" x="152.05" y="1032.95" width="822.90" height="284.05"/>
<path class="ax" style="stroke-linecap:butt" d="M152.05 1047.15h6.9M974.95 1047.15h-6.9M152.05 1061.36h6.9M974.95 1061.36h-6.9M152.05 1075.56h6.9M974.95 1075.56h-6.9M152.05 1089.76h6.9M974.95 1089.76h-6.9M152.05 1103.96h12.8M974.95 1103.96h-12.8M152.05 1118.16h6.9M974.95 1118.16h-6.9M152.05 1132.37h6.9M974.95 1132.37h-6.9M152.05 1146.57h6.9M974.95 1146.57h-6.9M152.05 1160.77h6.9M974.95 1160.77h-6.9M152.05 1174.97h12.8M974.95 1174.97h-12.8M152.05 1189.18h6.9M974.95 1189.18h-6.9M152.05 1203.38h6.9M974.95 1203.38h-6.9M152.05 1217.58h6.9M974.95 1217.58h-6.9M152.05 1231.79h6.9M974.95 1231.79h-6.9M152.05 1245.99h12.8M974.95 1245.99h-12.8M152.05 1260.19h6.9M974.95 1260.19h-6.9M152.05 1274.39h6.9M974.95 1274.39h-6.9M152.05 1288.60h6.9M974.95 1288.60h-6.9M152.05 1302.80h6.9M974.95 1302.80h-6.9M220.62 1032.95v12.8M220.62 1317.00v-12.8M392.06 1032.95v12.8M392.06 1317.00v-12.8M563.50 1032.95v12.8M563.50 1317.00v-12.8M734.94 1032.95v12.8M734.94 1317.00v-12.8M906.38 1032.95v12.8M906.38 1317.00v-12.8M186.34 1032.95v6.9M186.34 1317.00v-6.9M254.91 1032.95v6.9M254.91 1317.00v-6.9M289.20 1032.95v6.9M289.20 1317.00v-6.9M323.49 1032.95v6.9M323.49 1317.00v-6.9M357.78 1032.95v6.9M357.78 1317.00v-6.9M426.35 1032.95v6.9M426.35 1317.00v-6.9M460.64 1032.95v6.9M460.64 1317.00v-6.9M494.93 1032.95v6.9M494.93 1317.00v-6.9M529.21 1032.95v6.9M529.21 1317.00v-6.9M597.79 1032.95v6.9M597.79 1317.00v-6.9M632.08 1032.95v6.9M632.08 1317.00v-6.9M666.36 1032.95v6.9M666.36 1317.00v-6.9M700.65 1032.95v6.9M700.65 1317.00v-6.9M769.23 1032.95v6.9M769.23 1317.00v-6.9M803.51 1032.95v6.9M803.51 1317.00v-6.9M837.80 1032.95v6.9M837.80 1317.00v-6.9M872.09 1032.95v6.9M872.09 1317.00v-6.9M940.66 1032.95v6.9M940.66 1317.00v-6.9"/>
<text class="tk n" transform="translate(134.3 1041.85) scale(1.085 1)" text-anchor="end">−0.02</text>
<text class="tk n" transform="translate(134.3 1112.86) scale(1.085 1)" text-anchor="end">−0.01</text>
<text class="tk n" transform="translate(134.3 1183.88) scale(1.085 1)" text-anchor="end">0</text>
<text class="tk n" transform="translate(134.3 1254.89) scale(1.085 1)" text-anchor="end">0.01</text>
<text class="tk n" transform="translate(134.3 1325.90) scale(1.085 1)" text-anchor="end">0.02</text>
<text class="tk n" transform="translate(220.62 1350.10) scale(1.085 1)" text-anchor="middle">0.90</text>
<text class="tk n" transform="translate(392.06 1350.10) scale(1.085 1)" text-anchor="middle">0.95</text>
<text class="tk n" transform="translate(563.50 1350.10) scale(1.085 1)" text-anchor="middle">0.00</text>
<text class="tk n" transform="translate(734.94 1350.10) scale(1.085 1)" text-anchor="middle">0.05</text>
<text class="tk n" transform="translate(906.38 1350.10) scale(1.085 1)" text-anchor="middle">0.10</text>
<g transform="translate(26.2 1250.00) rotate(-90)"><text class="big" x="-2.3 20.2 31.9 52.4 78.9 96.2">Δ(b+y)</text><text class="big" transform="translate(111.9 2.6) skewX(-12) scale(1 1.32)" style="stroke-width:.3px">/</text><text class="big n" x="132.6">2</text></g>
</g>
<g class="d"><circle cx="164.7" cy="1142.7" r="3.1"/><circle cx="164.7" cy="1146.9" r="3.1"/><circle cx="165.0" cy="1158.7" r="3.1"/><circle cx="185.4" cy="1181.6" r="3.1"/><circle cx="180.7" cy="1198.6" r="3.1"/><circle cx="180.4" cy="1212.5" r="3.1"/><circle cx="196.4" cy="1161.1" r="3.1"/><circle cx="195.7" cy="1181.1" r="3.1"/><circle cx="233.6" cy="1145.2" r="3.1"/><circle cx="233.6" cy="1159.2" r="3.1"/><circle cx="242.8" cy="1182.4" r="3.1"/><circle cx="258.8" cy="1134.5" r="3.1"/><circle cx="259.8" cy="1165.9" r="3.1"/><circle cx="257.5" cy="1185.6" r="3.1"/><circle cx="265.3" cy="1201.3" r="3.1"/><circle cx="291.2" cy="1171.9" r="3.1"/><circle cx="291.0" cy="1189.6" r="3.1"/><circle cx="296.0" cy="1216.0" r="3.1"/><circle cx="306.4" cy="1165.4" r="3.1"/><circle cx="306.9" cy="1168.9" r="3.1"/><circle cx="308.2" cy="1173.4" r="3.1"/><circle cx="312.7" cy="1191.8" r="3.1"/><circle cx="311.4" cy="1194.1" r="3.1"/><circle cx="323.7" cy="1173.9" r="3.1"/><circle cx="322.7" cy="1179.9" r="3.1"/><circle cx="321.9" cy="1188.1" r="3.1"/><circle cx="327.6" cy="1137.4" r="3.1"/><circle cx="328.1" cy="1167.4" r="3.1"/><circle cx="327.4" cy="1201.6" r="3.1"/><circle cx="326.6" cy="1216.8" r="3.1"/><circle cx="333.6" cy="1209.3" r="3.1"/><circle cx="339.6" cy="1132.0" r="3.1"/><circle cx="338.1" cy="1184.4" r="3.1"/><circle cx="343.4" cy="1181.4" r="3.1"/><circle cx="343.9" cy="1201.6" r="3.1"/><circle cx="358.8" cy="1191.8" r="3.1"/><circle cx="374.6" cy="1149.2" r="3.1"/><circle cx="374.8" cy="1156.2" r="3.1"/><circle cx="375.0" cy="1179.1" r="3.1"/><circle cx="375.3" cy="1189.1" r="3.1"/><circle cx="390.3" cy="1168.4" r="3.1"/><circle cx="390.0" cy="1176.1" r="3.1"/><circle cx="390.5" cy="1184.9" r="3.1"/><circle cx="391.3" cy="1187.6" r="3.1"/><circle cx="406.2" cy="1147.9" r="3.1"/><circle cx="412.2" cy="1135.7" r="3.1"/><circle cx="421.9" cy="1141.7" r="3.1"/><circle cx="405.5" cy="1172.4" r="3.1"/><circle cx="406.7" cy="1177.4" r="3.1"/><circle cx="420.9" cy="1167.1" r="3.1"/><circle cx="421.9" cy="1170.4" r="3.1"/><circle cx="422.4" cy="1188.8" r="3.1"/><circle cx="437.7" cy="1162.9" r="3.1"/><circle cx="443.6" cy="1155.9" r="3.1"/><circle cx="437.4" cy="1212.5" r="3.1"/><circle cx="453.4" cy="1165.6" r="3.1"/><circle cx="469.6" cy="1142.9" r="3.1"/><circle cx="474.6" cy="1148.7" r="3.1"/><circle cx="468.8" cy="1156.7" r="3.1"/><circle cx="468.8" cy="1178.1" r="3.1"/><circle cx="468.6" cy="1182.9" r="3.1"/><circle cx="484.1" cy="1158.7" r="3.1"/><circle cx="484.3" cy="1161.4" r="3.1"/><circle cx="485.1" cy="1186.1" r="3.1"/><circle cx="500.8" cy="1136.9" r="3.1"/><circle cx="506.3" cy="1146.2" r="3.1"/><circle cx="501.0" cy="1149.7" r="3.1"/><circle cx="499.8" cy="1183.1" r="3.1"/><circle cx="500.0" cy="1197.1" r="3.1"/><circle cx="516.7" cy="1128.5" r="3.1"/><circle cx="516.0" cy="1147.2" r="3.1"/><circle cx="517.2" cy="1163.1" r="3.1"/><circle cx="516.5" cy="1167.9" r="3.1"/><circle cx="531.5" cy="1144.9" r="3.1"/><circle cx="532.5" cy="1162.9" r="3.1"/><circle cx="548.2" cy="1146.9" r="3.1"/><circle cx="547.7" cy="1150.4" r="3.1"/><circle cx="546.9" cy="1156.9" r="3.1"/><circle cx="547.2" cy="1188.3" r="3.1"/><circle cx="579.4" cy="1174.4" r="3.1"/><circle cx="579.4" cy="1180.1" r="3.1"/><circle cx="594.8" cy="1146.2" r="3.1"/><circle cx="595.3" cy="1177.4" r="3.1"/><circle cx="594.3" cy="1198.3" r="3.1"/><circle cx="610.6" cy="1150.7" r="3.1"/><circle cx="626.0" cy="1195.6" r="3.1"/><circle cx="694.9" cy="1126.2" r="3.1"/><circle cx="736.8" cy="1126.2" r="3.1"/><circle cx="689.9" cy="1171.4" r="3.1"/><circle cx="689.6" cy="1196.8" r="3.1"/><circle cx="705.3" cy="1168.9" r="3.1"/><circle cx="705.8" cy="1180.6" r="3.1"/><circle cx="721.1" cy="1157.4" r="3.1"/><circle cx="721.1" cy="1161.6" r="3.1"/><circle cx="737.0" cy="1171.4" r="3.1"/><circle cx="752.3" cy="1154.2" r="3.1"/><circle cx="752.8" cy="1158.9" r="3.1"/><circle cx="757.7" cy="1162.4" r="3.1"/><circle cx="767.7" cy="1148.7" r="3.1"/><circle cx="768.2" cy="1183.9" r="3.1"/><circle cx="767.7" cy="1196.3" r="3.1"/><circle cx="768.5" cy="1197.8" r="3.1"/><circle cx="783.9" cy="1175.4" r="3.1"/><circle cx="783.4" cy="1190.1" r="3.1"/><circle cx="783.9" cy="1203.3" r="3.1"/><circle cx="782.7" cy="1205.3" r="3.1"/><circle cx="790.7" cy="1192.3" r="3.1"/><circle cx="799.7" cy="1165.9" r="3.1"/><circle cx="805.1" cy="1165.1" r="3.1"/><circle cx="798.9" cy="1194.6" r="3.1"/><circle cx="799.2" cy="1197.8" r="3.1"/><circle cx="806.1" cy="1181.6" r="3.1"/><circle cx="815.4" cy="1147.9" r="3.1"/><circle cx="815.1" cy="1155.2" r="3.1"/><circle cx="814.1" cy="1218.8" r="3.1"/><circle cx="821.9" cy="1180.6" r="3.1"/><circle cx="820.6" cy="1181.9" r="3.1"/><circle cx="831.3" cy="1156.9" r="3.1"/><circle cx="830.6" cy="1191.1" r="3.1"/><circle cx="831.1" cy="1194.1" r="3.1"/><circle cx="847.1" cy="1133.7" r="3.1"/><circle cx="846.8" cy="1160.4" r="3.1"/><circle cx="862.8" cy="1160.6" r="3.1"/><circle cx="868.0" cy="1180.1" r="3.1"/><circle cx="868.8" cy="1201.1" r="3.1"/><circle cx="878.3" cy="1182.4" r="3.1"/><circle cx="877.8" cy="1199.1" r="3.1"/><circle cx="894.1" cy="1149.7" r="3.1"/><circle cx="899.9" cy="1151.2" r="3.1"/><circle cx="895.9" cy="1162.6" r="3.1"/><circle cx="900.5" cy="1165.8" r="3.1"/><circle cx="899.9" cy="1175.9" r="3.1"/><circle cx="909.7" cy="1163.3" r="3.1"/><circle cx="909.9" cy="1166.8" r="3.1"/><circle cx="914.9" cy="1166.5" r="3.1"/><circle cx="909.3" cy="1175.9" r="3.1"/><circle cx="914.9" cy="1143.1" r="3.1"/><circle cx="925.0" cy="1159.5" r="3.1"/><circle cx="925.7" cy="1170.5" r="3.1"/><circle cx="924.7" cy="1185.5" r="3.1"/><circle cx="930.6" cy="1162.4" r="3.1"/><circle cx="931.4" cy="1125.5" r="3.1"/><circle cx="930.9" cy="1137.7" r="3.1"/><circle cx="941.1" cy="1210.7" r="3.1"/><circle cx="947.1" cy="1135.7" r="3.1"/><circle cx="957.1" cy="1185.1" r="3.1"/><circle cx="957.1" cy="1193.0" r="3.1"/><circle cx="963.5" cy="1154.7" r="3.1"/><circle cx="962.8" cy="1157.2" r="3.1"/><circle cx="972.3" cy="1165.8" r="3.1"/><circle cx="972.9" cy="1176.1" r="3.1"/><circle cx="972.0" cy="1181.7" r="3.1"/><circle cx="972.0" cy="1194.8" r="3.1"/></g>
<path d="M152.05 1174.88H974.95" stroke="#231f20" stroke-width="2.4"/>
<path d="M563.5 1174.88V1228.8" stroke="#231f20" stroke-width="5.2"/>
<path d="M194.4 1047.05V1317.00" stroke="#231f20" stroke-width="3.3" stroke-linecap="round" stroke-dasharray="3.3 18.87"/>
<path d="M932.3 1041.95V1317.00" stroke="#231f20" stroke-width="3.3" stroke-linecap="round" stroke-dasharray="3.3 18.87"/>
<text class="" x="175.50" y="45.90" style="font-size:22.5px;letter-spacing:0.681px">Epoch</text>
<text class="n" x="262.20" y="45.90" style="font-size:22.5px;letter-spacing:0.000px">=</text>
<text class="n" x="292.80" y="45.90" style="font-size:22.5px;letter-spacing:0.261px">2456360.717</text>
<text class="" x="510.00" y="45.90" style="font-size:22.5px;letter-spacing:1.449px">Planet</text>
<text class="" x="602.20" y="45.90" style="font-size:22.5px;letter-spacing:0.000px">c</text>
<text class="" x="732.70" y="45.90" style="font-size:22.5px;letter-spacing:1.432px">Period</text>
<text class="n" x="825.80" y="45.90" style="font-size:22.5px;letter-spacing:0.000px">=</text>
<text class="n" x="857.70" y="45.90" style="font-size:22.5px;letter-spacing:0.012px">17.8736</text>
<text class="" x="176.20" y="272.95" style="font-size:22.5px;letter-spacing:2.404px">rms</text>
<text class="n" x="235.90" y="272.95" style="font-size:22.5px;letter-spacing:0.000px">=</text>
<text class="n" x="267.50" y="272.95" style="font-size:22.5px;letter-spacing:0.279px">0.00296</text>
<text class="" x="507.70" y="272.95" style="font-size:22.5px;letter-spacing:1.020px">Semi−amp</text>
<text class="n" x="652.70" y="272.95" style="font-size:22.5px;letter-spacing:0.000px">=</text>
<text class="n" x="684.10" y="272.95" style="font-size:22.5px;letter-spacing:0.345px">0.00020</text>
<text class="n" x="790.40" y="272.95" style="font-size:22.5px;letter-spacing:0.000px">+</text>
<text class="n" x="825.30" y="272.95" style="font-size:22.5px;letter-spacing:0.000px">−</text>
<text class="n" x="857.00" y="272.95" style="font-size:22.5px;letter-spacing:0.129px">0.00015</text>
<text class="" x="510.00" y="386.90" style="font-size:22.5px;letter-spacing:1.449px">Planet</text>
<text class="" x="602.20" y="386.90" style="font-size:22.5px;letter-spacing:0.000px">c</text>
<text class="" x="175.50" y="727.90" style="font-size:22.5px;letter-spacing:0.681px">Epoch</text>
<text class="n" x="262.20" y="727.90" style="font-size:22.5px;letter-spacing:0.000px">=</text>
<text class="n" x="292.80" y="727.90" style="font-size:22.5px;letter-spacing:0.261px">2456486.046</text>
<text class="" x="510.00" y="727.90" style="font-size:22.5px;letter-spacing:1.449px">Planet</text>
<text class="" x="602.20" y="727.90" style="font-size:22.5px;letter-spacing:0.000px">d</text>
<text class="" x="747.70" y="727.90" style="font-size:22.5px;letter-spacing:1.432px">Period</text>
<text class="n" x="840.30" y="727.90" style="font-size:22.5px;letter-spacing:0.000px">=</text>
<text class="n" x="871.20" y="727.90" style="font-size:22.5px;letter-spacing:0.037px">217.61</text>
<text class="" x="176.20" y="954.95" style="font-size:22.5px;letter-spacing:2.404px">rms</text>
<text class="n" x="235.90" y="954.95" style="font-size:22.5px;letter-spacing:0.000px">=</text>
<text class="n" x="267.50" y="954.95" style="font-size:22.5px;letter-spacing:0.279px">0.00296</text>
<text class="" x="507.70" y="954.95" style="font-size:22.5px;letter-spacing:1.020px">Semi−amp</text>
<text class="n" x="652.70" y="954.95" style="font-size:22.5px;letter-spacing:0.000px">=</text>
<text class="n" x="684.10" y="954.95" style="font-size:22.5px;letter-spacing:0.345px">0.00020</text>
<text class="n" x="790.40" y="954.95" style="font-size:22.5px;letter-spacing:0.000px">+</text>
<text class="n" x="825.30" y="954.95" style="font-size:22.5px;letter-spacing:0.000px">−</text>
<text class="n" x="857.00" y="954.95" style="font-size:22.5px;letter-spacing:0.129px">0.00015</text>
<text class="" x="510.00" y="1068.90" style="font-size:22.5px;letter-spacing:1.449px">Planet</text>
<text class="" x="602.20" y="1068.90" style="font-size:22.5px;letter-spacing:0.000px">d</text>
<text class="" x="362.30" y="1396.30" style="font-size:30px;letter-spacing:1.860px">Planetary</text>
<text class="" x="538.80" y="1396.30" style="font-size:30px;letter-spacing:0.871px">Orbital</text>
<text class="" x="665.90" y="1396.30" style="font-size:30px;letter-spacing:2.153px">Phase</text>
</svg></body></html>
